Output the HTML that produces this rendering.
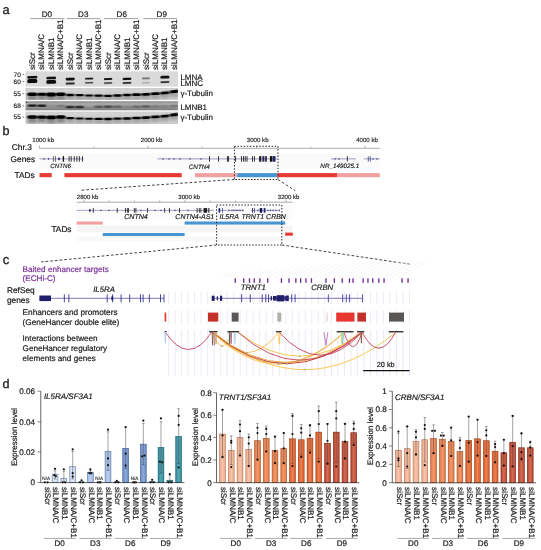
<!DOCTYPE html>
<html><head><meta charset="utf-8"><title>Figure</title>
<style>
html,body{margin:0;padding:0;background:#fff;}
body{width:541px;height:550px;overflow:hidden;}
svg{display:block;font-family:"Liberation Sans",sans-serif;text-rendering:geometricPrecision;}
</style></head><body>
<svg width="541" height="550" viewBox="0 0 541 550">
<rect width="541" height="550" fill="#fff"/>
<text x="2.5" y="13.5" font-size="12.8" text-anchor="start" fill="#1a1a1a" stroke="#1a1a1a" stroke-width="0.307">a</text>
<text x="46.9" y="16.9" font-size="8.1" text-anchor="middle" fill="#1a1a1a" stroke="#1a1a1a" stroke-width="0.194">D0</text>
<line x1="30.2" y1="18.6" x2="64.5" y2="18.6" stroke="#7a7a7a" stroke-width="0.7"/>
<text x="83.3" y="16.9" font-size="8.1" text-anchor="middle" fill="#1a1a1a" stroke="#1a1a1a" stroke-width="0.194">D3</text>
<line x1="67" y1="18.6" x2="100" y2="18.6" stroke="#7a7a7a" stroke-width="0.7"/>
<text x="121.8" y="16.9" font-size="8.1" text-anchor="middle" fill="#1a1a1a" stroke="#1a1a1a" stroke-width="0.194">D6</text>
<line x1="104" y1="18.6" x2="138" y2="18.6" stroke="#7a7a7a" stroke-width="0.7"/>
<text x="161.8" y="16.9" font-size="8.1" text-anchor="middle" fill="#1a1a1a" stroke="#1a1a1a" stroke-width="0.194">D9</text>
<line x1="143.5" y1="18.6" x2="177" y2="18.6" stroke="#7a7a7a" stroke-width="0.7"/>
<text x="35.0" y="70" font-size="8" text-anchor="start" fill="#1a1a1a" stroke="#1a1a1a" stroke-width="0.192" transform="rotate(-90 35.0 70)">siScr</text>
<text x="44.46" y="70" font-size="8" text-anchor="start" fill="#1a1a1a" stroke="#1a1a1a" stroke-width="0.192" transform="rotate(-90 44.46 70)">siLMNA/C</text>
<text x="53.92" y="70" font-size="8" text-anchor="start" fill="#1a1a1a" stroke="#1a1a1a" stroke-width="0.192" transform="rotate(-90 53.92 70)">siLMNB1</text>
<text x="63.38" y="70" font-size="8" text-anchor="start" fill="#1a1a1a" stroke="#1a1a1a" stroke-width="0.192" transform="rotate(-90 63.38 70)">siLMNA/C+B1</text>
<text x="72.84" y="70" font-size="8" text-anchor="start" fill="#1a1a1a" stroke="#1a1a1a" stroke-width="0.192" transform="rotate(-90 72.84 70)">siScr</text>
<text x="82.3" y="70" font-size="8" text-anchor="start" fill="#1a1a1a" stroke="#1a1a1a" stroke-width="0.192" transform="rotate(-90 82.3 70)">siLMNA/C</text>
<text x="91.76" y="70" font-size="8" text-anchor="start" fill="#1a1a1a" stroke="#1a1a1a" stroke-width="0.192" transform="rotate(-90 91.76 70)">siLMNB1</text>
<text x="101.22" y="70" font-size="8" text-anchor="start" fill="#1a1a1a" stroke="#1a1a1a" stroke-width="0.192" transform="rotate(-90 101.22 70)">siLMNA/C+B1</text>
<text x="110.68" y="70" font-size="8" text-anchor="start" fill="#1a1a1a" stroke="#1a1a1a" stroke-width="0.192" transform="rotate(-90 110.68 70)">siScr</text>
<text x="120.14" y="70" font-size="8" text-anchor="start" fill="#1a1a1a" stroke="#1a1a1a" stroke-width="0.192" transform="rotate(-90 120.14 70)">siLMNA/C</text>
<text x="129.6" y="70" font-size="8" text-anchor="start" fill="#1a1a1a" stroke="#1a1a1a" stroke-width="0.192" transform="rotate(-90 129.6 70)">siLMNB1</text>
<text x="139.06" y="70" font-size="8" text-anchor="start" fill="#1a1a1a" stroke="#1a1a1a" stroke-width="0.192" transform="rotate(-90 139.06 70)">siLMNA/C+B1</text>
<text x="148.52" y="70" font-size="8" text-anchor="start" fill="#1a1a1a" stroke="#1a1a1a" stroke-width="0.192" transform="rotate(-90 148.52 70)">siScr</text>
<text x="157.98" y="70" font-size="8" text-anchor="start" fill="#1a1a1a" stroke="#1a1a1a" stroke-width="0.192" transform="rotate(-90 157.98 70)">siLMNA/C</text>
<text x="167.44" y="70" font-size="8" text-anchor="start" fill="#1a1a1a" stroke="#1a1a1a" stroke-width="0.192" transform="rotate(-90 167.44 70)">siLMNB1</text>
<text x="176.9" y="70" font-size="8" text-anchor="start" fill="#1a1a1a" stroke="#1a1a1a" stroke-width="0.192" transform="rotate(-90 176.9 70)">siLMNA/C+B1</text>
<defs><filter id="b1" x="-30%" y="-100%" width="160%" height="300%"><feGaussianBlur stdDeviation="0.7 0.45"/></filter><filter id="b2" x="-30%" y="-100%" width="160%" height="300%"><feGaussianBlur stdDeviation="0.8 0.55"/></filter><filter id="b3" x="-30%" y="-100%" width="160%" height="300%"><feGaussianBlur stdDeviation="1.4 1.3"/></filter>
<clipPath id="cp0"><rect x="25.5" y="71.3" width="152.5" height="15.299999999999997"/></clipPath>
<clipPath id="cp1"><rect x="25.5" y="88" width="152.5" height="11.900000000000006"/></clipPath>
<clipPath id="cp2"><rect x="25.5" y="101.3" width="152.5" height="9.0"/></clipPath>
<clipPath id="cp3"><rect x="25.5" y="111.6" width="152.5" height="12.400000000000006"/></clipPath>
</defs>
<rect x="25.5" y="71.3" width="152.5" height="15.299999999999997" fill="#dadada"/>
<rect x="25.5" y="88" width="152.5" height="11.900000000000006" fill="#cbcbcb"/>
<rect x="25.5" y="101.3" width="152.5" height="9.0" fill="#a6a6a6"/>
<rect x="25.5" y="111.6" width="152.5" height="12.400000000000006" fill="#cdcdcd"/>
<g clip-path="url(#cp0)">
<rect x="27.3" y="76.00" width="10.0" height="2.40" rx="1.20" fill="#080808" opacity="1.0" filter="url(#b1)" transform="rotate(-2 32.3 77.2)"/>
<rect x="27.3" y="79.10" width="10.0" height="4.00" rx="1.60" fill="#080808" opacity="1.0" filter="url(#b1)" transform="rotate(-2 32.3 81.1)"/>
<rect x="27.9" y="79.80" width="8.8" height="2.60" rx="1.30" fill="#080808" opacity="1" filter="url(#b1)"/>
<rect x="46.3" y="76.80" width="9.8" height="2.40" rx="1.20" fill="#080808" opacity="1.0" filter="url(#b1)" transform="rotate(-2 51.2 78.0)"/>
<rect x="46.3" y="80.00" width="9.8" height="3.80" rx="1.60" fill="#080808" opacity="1.0" filter="url(#b1)" transform="rotate(-2 51.2 81.9)"/>
<rect x="46.9" y="80.70" width="8.6" height="2.40" rx="1.20" fill="#080808" opacity="1" filter="url(#b1)"/>
<rect x="65.6" y="77.70" width="9.2" height="2.80" rx="1.40" fill="#080808" opacity="1.0" filter="url(#b1)" transform="rotate(-2 70.2 79.1)"/>
<rect x="65.6" y="82.55" width="9.2" height="1.90" rx="0.95" fill="#080808" opacity="0.85" filter="url(#b1)" transform="rotate(-2 70.2 83.5)"/>
<rect x="84.9" y="77.75" width="8.4" height="1.70" rx="0.85" fill="#080808" opacity="0.95" filter="url(#b1)" transform="rotate(-2 89.1 78.6)"/>
<rect x="84.9" y="82.10" width="8.4" height="1.40" rx="0.70" fill="#080808" opacity="0.7" filter="url(#b1)" transform="rotate(-2 89.1 82.8)"/>
<rect x="103.9" y="78.00" width="8.4" height="2.00" rx="1.00" fill="#080808" opacity="0.95" filter="url(#b1)" transform="rotate(-2 108.1 79.0)"/>
<rect x="103.9" y="82.15" width="8.4" height="1.50" rx="0.75" fill="#080808" opacity="0.75" filter="url(#b1)" transform="rotate(-2 108.1 82.9)"/>
<rect x="122.6" y="77.75" width="8.8" height="2.30" rx="1.15" fill="#080808" opacity="1.0" filter="url(#b1)" transform="rotate(-2 127.0 78.9)"/>
<rect x="122.6" y="82.05" width="8.8" height="1.70" rx="0.85" fill="#080808" opacity="0.85" filter="url(#b1)" transform="rotate(-2 127.0 82.9)"/>
<rect x="142.0" y="77.50" width="7.8" height="1.80" rx="0.90" fill="#080808" opacity="0.5" filter="url(#b1)" transform="rotate(-2 145.9 78.4)"/>
<rect x="142.0" y="82.05" width="7.8" height="1.50" rx="0.75" fill="#080808" opacity="0.22" filter="url(#b1)" transform="rotate(-2 145.9 82.8)"/>
<rect x="160.4" y="75.80" width="9.0" height="2.80" rx="1.40" fill="#080808" opacity="1.0" filter="url(#b1)" transform="rotate(-2 164.9 77.2)"/>
<rect x="160.4" y="81.20" width="9.0" height="1.80" rx="0.90" fill="#080808" opacity="0.85" filter="url(#b1)" transform="rotate(-2 164.9 82.1)"/>
</g>
<g clip-path="url(#cp1)">
<rect x="25.5" y="89.2" width="152.5" height="2.2" fill="#fff" opacity="0.18" filter="url(#b3)"/>
<rect x="36.5" y="88" width="1.0" height="13" fill="#fff" opacity="0.22" filter="url(#b2)"/>
<rect x="46.0" y="88" width="1.0" height="13" fill="#fff" opacity="0.22" filter="url(#b2)"/>
<rect x="55.5" y="88" width="1.0" height="13" fill="#fff" opacity="0.22" filter="url(#b2)"/>
<rect x="65.0" y="88" width="1.0" height="13" fill="#fff" opacity="0.22" filter="url(#b2)"/>
<rect x="74.4" y="88" width="1.0" height="13" fill="#fff" opacity="0.22" filter="url(#b2)"/>
<rect x="83.9" y="88" width="1.0" height="13" fill="#fff" opacity="0.22" filter="url(#b2)"/>
<rect x="93.4" y="88" width="1.0" height="13" fill="#fff" opacity="0.22" filter="url(#b2)"/>
<rect x="102.8" y="88" width="1.0" height="13" fill="#fff" opacity="0.22" filter="url(#b2)"/>
<rect x="112.3" y="88" width="1.0" height="13" fill="#fff" opacity="0.22" filter="url(#b2)"/>
<rect x="121.8" y="88" width="1.0" height="13" fill="#fff" opacity="0.22" filter="url(#b2)"/>
<rect x="131.2" y="88" width="1.0" height="13" fill="#fff" opacity="0.22" filter="url(#b2)"/>
<rect x="140.7" y="88" width="1.0" height="13" fill="#fff" opacity="0.22" filter="url(#b2)"/>
<rect x="150.2" y="88" width="1.0" height="13" fill="#fff" opacity="0.22" filter="url(#b2)"/>
<rect x="159.7" y="88" width="1.0" height="13" fill="#fff" opacity="0.22" filter="url(#b2)"/>
<rect x="169.1" y="88" width="1.0" height="13" fill="#fff" opacity="0.22" filter="url(#b2)"/>
<rect x="28.0" y="94.4" width="8.6" height="5.8" fill="#444" opacity="0.5" filter="url(#b3)"/>
<rect x="27.6" y="92.40" width="9.4" height="3.60" rx="1.60" fill="#030303" opacity="1" filter="url(#b2)"/>
<rect x="28.4" y="93.10" width="7.8" height="2.20" rx="1.10" fill="#000" opacity="1" filter="url(#b2)"/>
<rect x="37.5" y="94.5" width="8.6" height="5.3" fill="#444" opacity="0.5" filter="url(#b3)"/>
<rect x="37.2" y="92.75" width="9.2" height="3.10" rx="1.55" fill="#030303" opacity="1" filter="url(#b2)"/>
<rect x="38.0" y="93.45" width="7.6" height="1.70" rx="0.85" fill="#000" opacity="1" filter="url(#b2)"/>
<rect x="46.9" y="94.7" width="8.6" height="6.0" fill="#444" opacity="0.5" filter="url(#b3)"/>
<rect x="46.4" y="92.60" width="9.6" height="3.80" rx="1.60" fill="#030303" opacity="1" filter="url(#b2)"/>
<rect x="47.2" y="93.30" width="8.0" height="2.40" rx="1.20" fill="#000" opacity="1" filter="url(#b2)"/>
<rect x="56.4" y="94.4" width="8.6" height="5.6" fill="#444" opacity="0.5" filter="url(#b3)"/>
<rect x="56.0" y="92.50" width="9.4" height="3.40" rx="1.60" fill="#030303" opacity="1" filter="url(#b2)"/>
<rect x="56.8" y="93.20" width="7.8" height="2.00" rx="1.00" fill="#000" opacity="1" filter="url(#b2)"/>
<rect x="65.9" y="95.2" width="8.6" height="4.5" fill="#444" opacity="0.28" filter="url(#b3)"/>
<rect x="66.0" y="93.85" width="8.4" height="2.30" rx="1.15" fill="#030303" opacity="1" filter="url(#b2)"/>
<rect x="75.4" y="95.4" width="8.6" height="4.4" fill="#444" opacity="0.28" filter="url(#b3)"/>
<rect x="75.6" y="94.10" width="8.2" height="2.20" rx="1.10" fill="#030303" opacity="1" filter="url(#b2)"/>
<rect x="84.8" y="95.7" width="8.6" height="4.2" fill="#444" opacity="0.28" filter="url(#b3)"/>
<rect x="85.0" y="94.50" width="8.2" height="2.00" rx="1.00" fill="#030303" opacity="1" filter="url(#b2)"/>
<rect x="94.3" y="95.8" width="8.6" height="4.6" fill="#444" opacity="0.28" filter="url(#b3)"/>
<rect x="94.3" y="94.40" width="8.6" height="2.40" rx="1.20" fill="#030303" opacity="1" filter="url(#b2)"/>
<rect x="103.8" y="96.0" width="8.6" height="4.5" fill="#444" opacity="0.28" filter="url(#b3)"/>
<rect x="103.8" y="94.65" width="8.6" height="2.30" rx="1.15" fill="#030303" opacity="1" filter="url(#b2)"/>
<rect x="113.2" y="95.7" width="8.6" height="4.5" fill="#444" opacity="0.28" filter="url(#b3)"/>
<rect x="113.2" y="94.35" width="8.6" height="2.30" rx="1.15" fill="#030303" opacity="1" filter="url(#b2)"/>
<rect x="122.7" y="95.3" width="8.6" height="4.7" fill="#444" opacity="0.28" filter="url(#b3)"/>
<rect x="122.7" y="93.85" width="8.6" height="2.50" rx="1.25" fill="#030303" opacity="1" filter="url(#b2)"/>
<rect x="132.2" y="94.9" width="8.6" height="4.9" fill="#444" opacity="0.28" filter="url(#b3)"/>
<rect x="132.1" y="93.35" width="8.8" height="2.70" rx="1.35" fill="#030303" opacity="1" filter="url(#b2)"/>
<rect x="132.9" y="94.05" width="7.2" height="1.30" rx="0.65" fill="#000" opacity="1" filter="url(#b2)"/>
<rect x="141.6" y="94.5" width="8.6" height="4.9" fill="#444" opacity="0.28" filter="url(#b3)"/>
<rect x="141.5" y="92.95" width="8.8" height="2.70" rx="1.35" fill="#030303" opacity="1" filter="url(#b2)" transform="rotate(-3 145.9 94.3)"/>
<rect x="142.3" y="93.65" width="7.2" height="1.30" rx="0.65" fill="#000" opacity="1" filter="url(#b2)"/>
<rect x="151.1" y="93.9" width="8.6" height="5.0" fill="#444" opacity="0.28" filter="url(#b3)"/>
<rect x="151.0" y="92.30" width="8.8" height="2.80" rx="1.40" fill="#030303" opacity="1" filter="url(#b2)" transform="rotate(-3 155.4 93.7)"/>
<rect x="151.8" y="93.00" width="7.2" height="1.40" rx="0.70" fill="#000" opacity="1" filter="url(#b2)"/>
<rect x="160.6" y="93.1" width="8.6" height="5.1" fill="#444" opacity="0.28" filter="url(#b3)"/>
<rect x="160.4" y="91.45" width="9.0" height="2.90" rx="1.45" fill="#030303" opacity="1" filter="url(#b2)" transform="rotate(-7 164.9 92.9)"/>
<rect x="161.2" y="92.15" width="7.4" height="1.50" rx="0.75" fill="#000" opacity="1" filter="url(#b2)"/>
<rect x="170.1" y="91.8" width="8.6" height="5.2" fill="#444" opacity="0.28" filter="url(#b3)"/>
<rect x="169.8" y="90.10" width="9.2" height="3.00" rx="1.50" fill="#030303" opacity="1" filter="url(#b2)" transform="rotate(-7 174.4 91.6)"/>
<rect x="170.6" y="90.80" width="7.6" height="1.60" rx="0.80" fill="#000" opacity="1" filter="url(#b2)"/>
</g>
<g clip-path="url(#cp2)">
<rect x="25.5" y="107.6" width="152.5" height="3.4" fill="#444" opacity="0.4" filter="url(#b3)"/>
<rect x="25.5" y="100.4" width="152.5" height="2.2" fill="#555" opacity="0.3" filter="url(#b2)"/>
<rect x="27.9" y="104.40" width="8.8" height="2.40" rx="1.20" fill="#0a0a0a" opacity="0.95" filter="url(#b2)"/>
<rect x="37.4" y="104.60" width="8.8" height="2.40" rx="1.20" fill="#0a0a0a" opacity="0.85" filter="url(#b2)"/>
<rect x="46.8" y="104.80" width="8.8" height="2.40" rx="1.20" fill="#0a0a0a" opacity="0.12" filter="url(#b2)"/>
<rect x="56.3" y="104.80" width="8.8" height="2.40" rx="1.20" fill="#0a0a0a" opacity="0.25" filter="url(#b2)"/>
<rect x="65.8" y="105.80" width="8.8" height="2.40" rx="1.20" fill="#0a0a0a" opacity="0.75" filter="url(#b2)"/>
<rect x="75.2" y="105.80" width="8.8" height="2.40" rx="1.20" fill="#0a0a0a" opacity="0.75" filter="url(#b2)"/>
<rect x="84.7" y="105.80" width="8.8" height="2.40" rx="1.20" fill="#0a0a0a" opacity="0.05" filter="url(#b2)"/>
<rect x="94.2" y="105.60" width="8.8" height="2.40" rx="1.20" fill="#0a0a0a" opacity="0.45" filter="url(#b2)"/>
<rect x="103.7" y="105.40" width="8.8" height="2.40" rx="1.20" fill="#0a0a0a" opacity="0.6" filter="url(#b2)"/>
<rect x="113.1" y="105.40" width="8.8" height="2.40" rx="1.20" fill="#0a0a0a" opacity="0.4" filter="url(#b2)"/>
<rect x="122.6" y="105.40" width="8.8" height="2.40" rx="1.20" fill="#0a0a0a" opacity="0.15" filter="url(#b2)"/>
<rect x="132.1" y="105.40" width="8.8" height="2.40" rx="1.20" fill="#0a0a0a" opacity="0.35" filter="url(#b2)"/>
<rect x="141.5" y="105.20" width="8.8" height="2.40" rx="1.20" fill="#0a0a0a" opacity="0.45" filter="url(#b2)"/>
<rect x="151.0" y="105.20" width="8.8" height="2.40" rx="1.20" fill="#0a0a0a" opacity="0.25" filter="url(#b2)"/>
<rect x="160.5" y="105.00" width="8.8" height="2.40" rx="1.20" fill="#0a0a0a" opacity="0.18" filter="url(#b2)"/>
<rect x="170.0" y="104.80" width="8.8" height="2.40" rx="1.20" fill="#0a0a0a" opacity="0.25" filter="url(#b2)"/>
<rect x="25.8" y="101.6" width="1.2" height="1.0" fill="#111"/>
</g>
<g clip-path="url(#cp3)">
<rect x="25.5" y="112.8" width="152.5" height="2.2" fill="#fff" opacity="0.18" filter="url(#b3)"/>
<rect x="36.5" y="111.6" width="1.0" height="13" fill="#fff" opacity="0.22" filter="url(#b2)"/>
<rect x="46.0" y="111.6" width="1.0" height="13" fill="#fff" opacity="0.22" filter="url(#b2)"/>
<rect x="55.5" y="111.6" width="1.0" height="13" fill="#fff" opacity="0.22" filter="url(#b2)"/>
<rect x="65.0" y="111.6" width="1.0" height="13" fill="#fff" opacity="0.22" filter="url(#b2)"/>
<rect x="74.4" y="111.6" width="1.0" height="13" fill="#fff" opacity="0.22" filter="url(#b2)"/>
<rect x="83.9" y="111.6" width="1.0" height="13" fill="#fff" opacity="0.22" filter="url(#b2)"/>
<rect x="93.4" y="111.6" width="1.0" height="13" fill="#fff" opacity="0.22" filter="url(#b2)"/>
<rect x="102.8" y="111.6" width="1.0" height="13" fill="#fff" opacity="0.22" filter="url(#b2)"/>
<rect x="112.3" y="111.6" width="1.0" height="13" fill="#fff" opacity="0.22" filter="url(#b2)"/>
<rect x="121.8" y="111.6" width="1.0" height="13" fill="#fff" opacity="0.22" filter="url(#b2)"/>
<rect x="131.2" y="111.6" width="1.0" height="13" fill="#fff" opacity="0.22" filter="url(#b2)"/>
<rect x="140.7" y="111.6" width="1.0" height="13" fill="#fff" opacity="0.22" filter="url(#b2)"/>
<rect x="150.2" y="111.6" width="1.0" height="13" fill="#fff" opacity="0.22" filter="url(#b2)"/>
<rect x="159.7" y="111.6" width="1.0" height="13" fill="#fff" opacity="0.22" filter="url(#b2)"/>
<rect x="169.1" y="111.6" width="1.0" height="13" fill="#fff" opacity="0.22" filter="url(#b2)"/>
<rect x="28.0" y="117.2" width="8.6" height="5.8" fill="#444" opacity="0.5" filter="url(#b3)"/>
<rect x="27.6" y="115.20" width="9.4" height="3.60" rx="1.60" fill="#030303" opacity="1" filter="url(#b2)"/>
<rect x="28.4" y="115.90" width="7.8" height="2.20" rx="1.10" fill="#000" opacity="1" filter="url(#b2)"/>
<rect x="37.5" y="117.3" width="8.6" height="5.3" fill="#444" opacity="0.5" filter="url(#b3)"/>
<rect x="37.2" y="115.55" width="9.2" height="3.10" rx="1.55" fill="#030303" opacity="1" filter="url(#b2)"/>
<rect x="38.0" y="116.25" width="7.6" height="1.70" rx="0.85" fill="#000" opacity="1" filter="url(#b2)"/>
<rect x="46.9" y="117.6" width="8.6" height="6.0" fill="#444" opacity="0.5" filter="url(#b3)"/>
<rect x="46.4" y="115.50" width="9.6" height="3.80" rx="1.60" fill="#030303" opacity="1" filter="url(#b2)"/>
<rect x="47.2" y="116.20" width="8.0" height="2.40" rx="1.20" fill="#000" opacity="1" filter="url(#b2)"/>
<rect x="56.4" y="117.2" width="8.6" height="5.6" fill="#444" opacity="0.5" filter="url(#b3)"/>
<rect x="56.0" y="115.30" width="9.4" height="3.40" rx="1.60" fill="#030303" opacity="1" filter="url(#b2)"/>
<rect x="56.8" y="116.00" width="7.8" height="2.00" rx="1.00" fill="#000" opacity="1" filter="url(#b2)"/>
<rect x="65.9" y="118.4" width="8.6" height="4.5" fill="#444" opacity="0.28" filter="url(#b3)"/>
<rect x="66.0" y="117.05" width="8.4" height="2.30" rx="1.15" fill="#030303" opacity="1" filter="url(#b2)"/>
<rect x="75.4" y="118.7" width="8.6" height="4.4" fill="#444" opacity="0.28" filter="url(#b3)"/>
<rect x="75.6" y="117.40" width="8.2" height="2.20" rx="1.10" fill="#030303" opacity="1" filter="url(#b2)"/>
<rect x="84.8" y="119.0" width="8.6" height="4.2" fill="#444" opacity="0.28" filter="url(#b3)"/>
<rect x="85.0" y="117.80" width="8.2" height="2.00" rx="1.00" fill="#030303" opacity="1" filter="url(#b2)"/>
<rect x="94.3" y="119.1" width="8.6" height="4.6" fill="#444" opacity="0.28" filter="url(#b3)"/>
<rect x="94.3" y="117.70" width="8.6" height="2.40" rx="1.20" fill="#030303" opacity="1" filter="url(#b2)"/>
<rect x="103.8" y="119.2" width="8.6" height="4.5" fill="#444" opacity="0.28" filter="url(#b3)"/>
<rect x="103.8" y="117.85" width="8.6" height="2.30" rx="1.15" fill="#030303" opacity="1" filter="url(#b2)"/>
<rect x="113.2" y="118.9" width="8.6" height="4.5" fill="#444" opacity="0.28" filter="url(#b3)"/>
<rect x="113.2" y="117.55" width="8.6" height="2.30" rx="1.15" fill="#030303" opacity="1" filter="url(#b2)"/>
<rect x="122.7" y="118.6" width="8.6" height="4.7" fill="#444" opacity="0.28" filter="url(#b3)"/>
<rect x="122.7" y="117.15" width="8.6" height="2.50" rx="1.25" fill="#030303" opacity="1" filter="url(#b2)"/>
<rect x="132.2" y="118.2" width="8.6" height="4.9" fill="#444" opacity="0.28" filter="url(#b3)"/>
<rect x="132.1" y="116.65" width="8.8" height="2.70" rx="1.35" fill="#030303" opacity="1" filter="url(#b2)"/>
<rect x="132.9" y="117.35" width="7.2" height="1.30" rx="0.65" fill="#000" opacity="1" filter="url(#b2)"/>
<rect x="141.6" y="117.8" width="8.6" height="4.9" fill="#444" opacity="0.28" filter="url(#b3)"/>
<rect x="141.5" y="116.25" width="8.8" height="2.70" rx="1.35" fill="#030303" opacity="1" filter="url(#b2)" transform="rotate(-3 145.9 117.6)"/>
<rect x="142.3" y="116.95" width="7.2" height="1.30" rx="0.65" fill="#000" opacity="1" filter="url(#b2)"/>
<rect x="151.1" y="117.1" width="8.6" height="5.0" fill="#444" opacity="0.28" filter="url(#b3)"/>
<rect x="151.0" y="115.50" width="8.8" height="2.80" rx="1.40" fill="#030303" opacity="1" filter="url(#b2)" transform="rotate(-3 155.4 116.9)"/>
<rect x="151.8" y="116.20" width="7.2" height="1.40" rx="0.70" fill="#000" opacity="1" filter="url(#b2)"/>
<rect x="160.6" y="116.3" width="8.6" height="5.1" fill="#444" opacity="0.28" filter="url(#b3)"/>
<rect x="160.4" y="114.65" width="9.0" height="2.90" rx="1.45" fill="#030303" opacity="1" filter="url(#b2)" transform="rotate(-7 164.9 116.1)"/>
<rect x="161.2" y="115.35" width="7.4" height="1.50" rx="0.75" fill="#000" opacity="1" filter="url(#b2)"/>
<rect x="170.1" y="115.0" width="8.6" height="5.2" fill="#444" opacity="0.28" filter="url(#b3)"/>
<rect x="169.8" y="113.30" width="9.2" height="3.00" rx="1.50" fill="#030303" opacity="1" filter="url(#b2)" transform="rotate(-7 174.4 114.8)"/>
<rect x="170.6" y="114.00" width="7.6" height="1.60" rx="0.80" fill="#000" opacity="1" filter="url(#b2)"/>
</g>
<text x="20.8" y="76.89999999999999" font-size="6.5" text-anchor="end" fill="#1a1a1a" stroke="#1a1a1a" stroke-width="0.156">70</text>
<line x1="22.6" y1="74.6" x2="24.2" y2="74.6" stroke="#1a1a1a" stroke-width="0.6"/>
<text x="20.8" y="83.89999999999999" font-size="6.5" text-anchor="end" fill="#1a1a1a" stroke="#1a1a1a" stroke-width="0.156">60</text>
<line x1="22.6" y1="81.6" x2="24.2" y2="81.6" stroke="#1a1a1a" stroke-width="0.6"/>
<text x="20.8" y="96.0" font-size="6.5" text-anchor="end" fill="#1a1a1a" stroke="#1a1a1a" stroke-width="0.156">55</text>
<line x1="22.6" y1="93.7" x2="24.2" y2="93.7" stroke="#1a1a1a" stroke-width="0.6"/>
<text x="20.8" y="108.3" font-size="6.5" text-anchor="end" fill="#1a1a1a" stroke="#1a1a1a" stroke-width="0.156">68</text>
<line x1="22.6" y1="106.0" x2="24.2" y2="106.0" stroke="#1a1a1a" stroke-width="0.6"/>
<text x="20.8" y="119.39999999999999" font-size="6.5" text-anchor="end" fill="#1a1a1a" stroke="#1a1a1a" stroke-width="0.156">55</text>
<line x1="22.6" y1="117.1" x2="24.2" y2="117.1" stroke="#1a1a1a" stroke-width="0.6"/>
<text x="180.4" y="79.85" font-size="8" text-anchor="start" fill="#1a1a1a" stroke="#1a1a1a" stroke-width="0.192">LMNA</text>
<text x="180.4" y="86.14999999999999" font-size="8" text-anchor="start" fill="#1a1a1a" stroke="#1a1a1a" stroke-width="0.192">LMNC</text>
<text x="180.4" y="96.14999999999999" font-size="8" text-anchor="start" fill="#1a1a1a" stroke="#1a1a1a" stroke-width="0.192">γ-Tubulin</text>
<text x="180.4" y="109.85" font-size="8" text-anchor="start" fill="#1a1a1a" stroke="#1a1a1a" stroke-width="0.192">LMNB1</text>
<text x="180.4" y="119.85" font-size="8" text-anchor="start" fill="#1a1a1a" stroke="#1a1a1a" stroke-width="0.192">γ-Tubulin</text>
<text x="2.5" y="135.2" font-size="12.6" text-anchor="start" fill="#1a1a1a" stroke="#1a1a1a" stroke-width="0.302">b</text>
<line x1="39.5" y1="148.3" x2="379.8" y2="148.3" stroke="#888" stroke-width="0.7"/>
<line x1="39.5" y1="148.3" x2="39.5" y2="145.70000000000002" stroke="#888" stroke-width="0.6"/>
<line x1="93.8" y1="148.3" x2="93.8" y2="146.5" stroke="#888" stroke-width="0.6"/>
<line x1="148.0" y1="148.3" x2="148.0" y2="145.70000000000002" stroke="#888" stroke-width="0.6"/>
<line x1="202.2" y1="148.3" x2="202.2" y2="146.5" stroke="#888" stroke-width="0.6"/>
<line x1="256.5" y1="148.3" x2="256.5" y2="145.70000000000002" stroke="#888" stroke-width="0.6"/>
<line x1="310.8" y1="148.3" x2="310.8" y2="146.5" stroke="#888" stroke-width="0.6"/>
<line x1="365.0" y1="148.3" x2="365.0" y2="145.70000000000002" stroke="#888" stroke-width="0.6"/>
<text x="43.2" y="142.0" font-size="6.1" text-anchor="middle" fill="#1a1a1a" stroke="#1a1a1a" stroke-width="0.146">1000 kb</text>
<text x="151.6" y="142.0" font-size="6.1" text-anchor="middle" fill="#1a1a1a" stroke="#1a1a1a" stroke-width="0.146">2000 kb</text>
<text x="257.7" y="142.0" font-size="6.1" text-anchor="middle" fill="#1a1a1a" stroke="#1a1a1a" stroke-width="0.146">3000 kb</text>
<text x="367" y="142.0" font-size="6.1" text-anchor="middle" fill="#1a1a1a" stroke="#1a1a1a" stroke-width="0.146">4000 kb</text>
<text x="11.8" y="149.8" font-size="8.4" text-anchor="start" fill="#1a1a1a" stroke="#1a1a1a" stroke-width="0.202">Chr.3</text>
<text x="10.6" y="162" font-size="8.3" text-anchor="start" fill="#1a1a1a" stroke="#1a1a1a" stroke-width="0.199">Genes</text>
<text x="14.5" y="177.9" font-size="8.3" text-anchor="start" fill="#1a1a1a" stroke="#1a1a1a" stroke-width="0.199">TADs</text>
<rect x="39.5" y="153.5" width="340.3" height="15" fill="#fafafa"/>
<line x1="39.5" y1="158.9" x2="83.5" y2="158.9" stroke="#3d3d85" stroke-width="0.5"/>
<rect x="43.50" y="158.1" width="1.0" height="1.6" fill="#23236e" opacity="0.85"/>
<rect x="48.00" y="158.1" width="1.0" height="1.6" fill="#23236e" opacity="0.85"/>
<rect x="52.95" y="156.1" width="0.7" height="5.6" fill="#333"/>
<rect x="54.95" y="156.1" width="0.7" height="5.6" fill="#333"/>
<rect x="58.20" y="157.6" width="1.6" height="2.6" rx="0.6" fill="#23236e"/>
<rect x="62.75" y="156.1" width="1.3" height="5.6" fill="#111"/>
<rect x="68.65" y="156.1" width="0.9" height="5.6" fill="#222"/>
<rect x="70.75" y="156.1" width="0.9" height="5.6" fill="#222"/>
<rect x="73.75" y="156.1" width="0.9" height="5.6" fill="#222"/>
<rect x="76.45" y="156.1" width="0.9" height="5.6" fill="#222"/>
<rect x="78.85" y="156.1" width="0.9" height="5.6" fill="#222"/>
<rect x="81.95" y="156.1" width="0.9" height="5.6" fill="#222"/>
<text x="60.6" y="168.0" font-size="6.2" text-anchor="middle" fill="#1a1a1a" stroke="#1a1a1a" stroke-width="0.149" font-style="italic">CNTN6</text>
<line x1="157.5" y1="158.9" x2="276.5" y2="158.9" stroke="#3d3d85" stroke-width="0.5"/>
<rect x="162.50" y="158.1" width="1.0" height="1.6" fill="#23236e" opacity="0.85"/>
<rect x="168.50" y="158.1" width="1.0" height="1.6" fill="#23236e" opacity="0.85"/>
<rect x="173.50" y="158.1" width="1.0" height="1.6" fill="#23236e" opacity="0.85"/>
<rect x="179.50" y="158.1" width="1.0" height="1.6" fill="#23236e" opacity="0.85"/>
<rect x="189.50" y="158.1" width="1.0" height="1.6" fill="#23236e" opacity="0.85"/>
<rect x="200.50" y="158.1" width="1.0" height="1.6" fill="#23236e" opacity="0.85"/>
<rect x="209.05" y="156.1" width="0.9" height="5.6" fill="#222"/>
<rect x="218.15" y="156.1" width="0.9" height="5.6" fill="#222"/>
<rect x="226.95" y="156.1" width="0.9" height="5.6" fill="#222"/>
<rect x="228.15" y="156.1" width="0.9" height="5.6" fill="#222"/>
<rect x="235.15" y="156.1" width="0.9" height="5.6" fill="#222"/>
<rect x="241.05" y="156.1" width="0.9" height="5.6" fill="#222"/>
<rect x="243.05" y="156.1" width="0.9" height="5.6" fill="#222"/>
<rect x="244.75" y="156.1" width="0.9" height="5.6" fill="#222"/>
<rect x="246.55" y="156.1" width="0.9" height="5.6" fill="#222"/>
<rect x="251.95" y="156.1" width="0.9" height="5.6" fill="#222"/>
<rect x="253.95" y="156.1" width="0.9" height="5.6" fill="#222"/>
<rect x="259.10" y="156.1" width="2.2" height="5.6" fill="#1b1b1b"/>
<rect x="262.40" y="156.1" width="2.0" height="5.6" fill="#23236e"/>
<rect x="265.20" y="156.1" width="1.6" height="5.6" fill="#1b1b1b"/>
<rect x="269.90" y="156.1" width="2.6" height="5.6" fill="#111"/>
<rect x="272.90" y="156.1" width="2.6" height="5.6" fill="#23236e"/>
<text x="199.3" y="168.6" font-size="6.3" text-anchor="middle" fill="#1a1a1a" stroke="#1a1a1a" stroke-width="0.151" font-style="italic">CNTN4</text>
<line x1="331" y1="158.9" x2="356" y2="158.9" stroke="#3d3d85" stroke-width="0.5"/>
<rect x="334.50" y="158.1" width="1.0" height="1.6" fill="#23236e" opacity="0.85"/>
<rect x="338.50" y="158.1" width="1.0" height="1.6" fill="#23236e" opacity="0.85"/>
<rect x="346.85" y="156.3" width="0.9" height="5.2" fill="#222"/>
<text x="339.8" y="168.4" font-size="6.3" text-anchor="middle" fill="#1a1a1a" stroke="#1a1a1a" stroke-width="0.151" font-style="italic">NR_149025.1</text>
<line x1="363.6" y1="158.9" x2="379.8" y2="158.9" stroke="#3d3d85" stroke-width="0.5"/>
<rect x="367.85" y="156.3" width="0.7" height="5.2" fill="#23236e"/>
<rect x="369.85" y="156.3" width="0.7" height="5.2" fill="#23236e"/>
<rect x="372.50" y="158.1" width="1.0" height="1.6" fill="#23236e" opacity="0.85"/>
<rect x="376.50" y="158.1" width="1.0" height="1.6" fill="#23236e" opacity="0.85"/>
<rect x="39.5" y="173.1" width="12.2" height="4.1" fill="#e73a34"/>
<rect x="64.4" y="173.1" width="117.3" height="4.1" fill="#e73a34"/>
<rect x="194.9" y="173.1" width="42.4" height="4.1" fill="#f3a0a0"/>
<rect x="237.3" y="173.1" width="40.0" height="4.1" fill="#4795d3"/>
<rect x="277.3" y="173.1" width="60.1" height="4.1" fill="#e73a34"/>
<rect x="337.4" y="173.1" width="42.4" height="4.1" fill="#f3a0a0"/>
<rect x="234.4" y="146.3" width="43.6" height="33.2" fill="none" stroke="#2a2a2a" stroke-width="1.0" stroke-dasharray="1.5 1.6"/>
<line x1="234.4" y1="179.5" x2="81" y2="190.2" stroke="#222" stroke-width="0.85" stroke-dasharray="2.7 2.0"/>
<line x1="278" y1="179.5" x2="295.2" y2="190.7" stroke="#222" stroke-width="0.85" stroke-dasharray="2.7 2.0"/>
<line x1="76.6" y1="202.2" x2="292.5" y2="202.2" stroke="#888" stroke-width="0.7"/>
<line x1="84.0" y1="202.2" x2="84.0" y2="199.6" stroke="#888" stroke-width="0.6"/>
<line x1="109.2" y1="202.2" x2="109.2" y2="200.39999999999998" stroke="#888" stroke-width="0.6"/>
<line x1="134.5" y1="202.2" x2="134.5" y2="200.39999999999998" stroke="#888" stroke-width="0.6"/>
<line x1="159.8" y1="202.2" x2="159.8" y2="200.39999999999998" stroke="#888" stroke-width="0.6"/>
<line x1="185.0" y1="202.2" x2="185.0" y2="199.6" stroke="#888" stroke-width="0.6"/>
<line x1="210.2" y1="202.2" x2="210.2" y2="200.39999999999998" stroke="#888" stroke-width="0.6"/>
<line x1="235.5" y1="202.2" x2="235.5" y2="200.39999999999998" stroke="#888" stroke-width="0.6"/>
<line x1="260.8" y1="202.2" x2="260.8" y2="200.39999999999998" stroke="#888" stroke-width="0.6"/>
<line x1="286.0" y1="202.2" x2="286.0" y2="199.6" stroke="#888" stroke-width="0.6"/>
<text x="87.6" y="198.8" font-size="6.1" text-anchor="middle" fill="#1a1a1a" stroke="#1a1a1a" stroke-width="0.146">2800 kb</text>
<text x="189.1" y="198.8" font-size="6.1" text-anchor="middle" fill="#1a1a1a" stroke="#1a1a1a" stroke-width="0.146">3000 kb</text>
<text x="288.6" y="198.8" font-size="6.1" text-anchor="middle" fill="#1a1a1a" stroke="#1a1a1a" stroke-width="0.146">3200 kb</text>
<rect x="76.6" y="205.5" width="216" height="14.5" fill="#fcfcfc"/>
<line x1="76.6" y1="210.4" x2="214" y2="210.4" stroke="#3d3d85" stroke-width="0.45"/>
<rect x="89.05" y="209.1" width="1.7" height="2.6" rx="0.6" fill="#23236e"/>
<rect x="92.85" y="208.1" width="0.9" height="4.6" fill="#222"/>
<rect x="100.50" y="209.6" width="1.0" height="1.6" fill="#23236e" opacity="0.85"/>
<rect x="108.50" y="209.6" width="1.0" height="1.6" fill="#23236e" opacity="0.85"/>
<rect x="116.75" y="208.1" width="0.9" height="4.6" fill="#222"/>
<rect x="124.95" y="208.1" width="0.9" height="4.6" fill="#222"/>
<rect x="126.85" y="208.1" width="0.9" height="4.6" fill="#222"/>
<rect x="127.95" y="208.1" width="0.9" height="4.6" fill="#222"/>
<rect x="133.85" y="208.1" width="0.9" height="4.6" fill="#222"/>
<rect x="135.45" y="208.1" width="0.9" height="4.6" fill="#222"/>
<rect x="140.50" y="209.6" width="1.0" height="1.6" fill="#23236e" opacity="0.85"/>
<rect x="147.15" y="208.1" width="0.9" height="4.6" fill="#222"/>
<rect x="154.50" y="209.6" width="1.0" height="1.6" fill="#23236e" opacity="0.85"/>
<rect x="160.50" y="209.6" width="1.0" height="1.6" fill="#23236e" opacity="0.85"/>
<rect x="164.25" y="208.1" width="0.9" height="4.6" fill="#222"/>
<rect x="168.95" y="208.1" width="0.9" height="4.6" fill="#222"/>
<rect x="174.50" y="209.6" width="1.0" height="1.6" fill="#23236e" opacity="0.85"/>
<rect x="179.05" y="208.1" width="0.9" height="4.6" fill="#222"/>
<rect x="187.50" y="209.6" width="1.0" height="1.6" fill="#23236e" opacity="0.85"/>
<rect x="196.65" y="208.1" width="0.9" height="4.6" fill="#222"/>
<rect x="198.85" y="208.1" width="0.9" height="4.6" fill="#222"/>
<rect x="200.45" y="208.1" width="0.9" height="4.6" fill="#222"/>
<rect x="203.50" y="208.1" width="3.6" height="4.6" fill="#1e1e1e"/>
<rect x="207.90" y="208.1" width="1.6" height="4.6" fill="#555"/>
<line x1="218" y1="210.4" x2="244" y2="210.4" stroke="#3d3d85" stroke-width="0.45"/>
<rect x="218.60" y="208.1" width="1.6" height="4.6" fill="#23236e"/>
<rect x="222.05" y="208.1" width="0.7" height="4.6" fill="#23236e"/>
<rect x="228.50" y="209.6" width="1.0" height="1.6" fill="#23236e" opacity="0.85"/>
<rect x="231.50" y="209.6" width="1.0" height="1.6" fill="#23236e" opacity="0.85"/>
<rect x="233.50" y="209.6" width="1.0" height="1.6" fill="#23236e" opacity="0.85"/>
<rect x="235.50" y="209.6" width="1.0" height="1.6" fill="#23236e" opacity="0.85"/>
<rect x="237.50" y="209.6" width="1.0" height="1.6" fill="#23236e" opacity="0.85"/>
<rect x="239.50" y="209.6" width="1.0" height="1.6" fill="#23236e" opacity="0.85"/>
<rect x="242.30" y="209.6" width="1.0" height="1.6" fill="#23236e" opacity="0.85"/>
<line x1="251" y1="210.4" x2="280" y2="210.4" stroke="#3d3d85" stroke-width="0.45"/>
<rect x="252.10" y="208.1" width="1.0" height="4.6" fill="#23236e"/>
<rect x="254.25" y="208.1" width="0.7" height="4.6" fill="#23236e"/>
<rect x="257.50" y="209.6" width="1.0" height="1.6" fill="#23236e" opacity="0.85"/>
<rect x="259.70" y="208.1" width="2.6" height="4.6" fill="#15154a"/>
<rect x="263.70" y="208.1" width="1.8" height="4.6" fill="#23236e"/>
<rect x="267.50" y="209.6" width="1.0" height="1.6" fill="#23236e" opacity="0.85"/>
<rect x="270.10" y="209.6" width="1.0" height="1.6" fill="#23236e" opacity="0.85"/>
<rect x="272.50" y="209.6" width="1.0" height="1.6" fill="#23236e" opacity="0.85"/>
<rect x="275.50" y="209.6" width="1.0" height="1.6" fill="#23236e" opacity="0.85"/>
<rect x="278.90" y="209.6" width="1.0" height="1.6" fill="#23236e" opacity="0.85"/>
<text x="136" y="219.3" font-size="7.1" text-anchor="middle" fill="#1a1a1a" stroke="#1a1a1a" stroke-width="0.17" font-style="italic">CNTN4</text>
<text x="194.8" y="219.4" font-size="7" text-anchor="middle" fill="#1a1a1a" stroke="#1a1a1a" stroke-width="0.168" font-style="italic">CNTN4-AS1</text>
<text x="229.2" y="219.4" font-size="7" text-anchor="middle" fill="#1a1a1a" stroke="#1a1a1a" stroke-width="0.168" font-style="italic">IL5RA</text>
<text x="252.8" y="219.4" font-size="7" text-anchor="middle" fill="#1a1a1a" stroke="#1a1a1a" stroke-width="0.168" font-style="italic">TRNT1</text>
<text x="276" y="219.4" font-size="7" text-anchor="middle" fill="#1a1a1a" stroke="#1a1a1a" stroke-width="0.168" font-style="italic">CRBN</text>
<rect x="76.6" y="225.6" width="216" height="6.6" fill="#f5f5f5"/>
<rect x="76.6" y="236.6" width="216" height="4.6" fill="#f8f8f8"/>
<rect x="76.6" y="221.5" width="26.2" height="3.1" fill="#f3a0a0"/>
<rect x="184.6" y="221.5" width="100.6" height="3.1" fill="#4795d3"/>
<rect x="102.8" y="233" width="81.8" height="3.1" fill="#4795d3"/>
<rect x="285.2" y="232.6" width="7.6" height="3.1" fill="#e73a34"/>
<text x="51.4" y="231.5" font-size="8.3" text-anchor="start" fill="#1a1a1a" stroke="#1a1a1a" stroke-width="0.199">TADs</text>
<rect x="216.6" y="205" width="65.2" height="40" fill="none" stroke="#2a2a2a" stroke-width="1.0" stroke-dasharray="1.5 1.6"/>
<line x1="216.6" y1="245" x2="41" y2="262" stroke="#222" stroke-width="0.85" stroke-dasharray="2.7 2.0"/>
<line x1="281.8" y1="245" x2="410.5" y2="264.3" stroke="#222" stroke-width="0.85" stroke-dasharray="2.7 2.0"/>
<text x="2.8" y="264.2" font-size="13" text-anchor="start" fill="#1a1a1a" stroke="#1a1a1a" stroke-width="0.312">c</text>
<text x="22.6" y="271.9" font-size="8.15" text-anchor="start" fill="#7a2f9a" stroke="#7a2f9a" stroke-width="0.196">Baited enhancer targets</text>
<text x="22.6" y="281.1" font-size="8.15" text-anchor="start" fill="#7a2f9a" stroke="#7a2f9a" stroke-width="0.196">(ECHi-C)</text>
<text x="7" y="293.4" font-size="8.3" text-anchor="start" fill="#1a1a1a" stroke="#1a1a1a" stroke-width="0.199">RefSeq</text>
<text x="7" y="302.6" font-size="8.3" text-anchor="start" fill="#1a1a1a" stroke="#1a1a1a" stroke-width="0.199">genes</text>
<text x="22.6" y="314.6" font-size="8.25" text-anchor="start" fill="#1a1a1a" stroke="#1a1a1a" stroke-width="0.198">Enhancers and promoters</text>
<text x="22.6" y="324.7" font-size="8.25" text-anchor="start" fill="#1a1a1a" stroke="#1a1a1a" stroke-width="0.198">(GeneHancer double elite)</text>
<text x="22.6" y="341.0" font-size="8.15" text-anchor="start" fill="#1a1a1a" stroke="#1a1a1a" stroke-width="0.196">Interactions between</text>
<text x="22.6" y="350.8" font-size="8.15" text-anchor="start" fill="#1a1a1a" stroke="#1a1a1a" stroke-width="0.196">GeneHancer regulatory</text>
<text x="22.6" y="360.8" font-size="8.15" text-anchor="start" fill="#1a1a1a" stroke="#1a1a1a" stroke-width="0.196">elements and genes</text>
<line x1="168.6" y1="291.8" x2="168.6" y2="303.8" stroke="#e7e2f2" stroke-width="0.8"/>
<line x1="168.6" y1="310.5" x2="168.6" y2="323.6" stroke="#e7e2f2" stroke-width="0.8"/>
<line x1="168.6" y1="330" x2="168.6" y2="376" stroke="#e7e2f2" stroke-width="0.8"/>
<line x1="175.1" y1="291.8" x2="175.1" y2="303.8" stroke="#e7e2f2" stroke-width="0.8"/>
<line x1="175.1" y1="310.5" x2="175.1" y2="323.6" stroke="#e7e2f2" stroke-width="0.8"/>
<line x1="175.1" y1="330" x2="175.1" y2="376" stroke="#e7e2f2" stroke-width="0.8"/>
<line x1="181.6" y1="291.8" x2="181.6" y2="303.8" stroke="#e7e2f2" stroke-width="0.8"/>
<line x1="181.6" y1="310.5" x2="181.6" y2="323.6" stroke="#e7e2f2" stroke-width="0.8"/>
<line x1="181.6" y1="330" x2="181.6" y2="376" stroke="#e7e2f2" stroke-width="0.8"/>
<line x1="188.1" y1="291.8" x2="188.1" y2="303.8" stroke="#e7e2f2" stroke-width="0.8"/>
<line x1="188.1" y1="310.5" x2="188.1" y2="323.6" stroke="#e7e2f2" stroke-width="0.8"/>
<line x1="188.1" y1="330" x2="188.1" y2="376" stroke="#e7e2f2" stroke-width="0.8"/>
<line x1="194.6" y1="291.8" x2="194.6" y2="303.8" stroke="#e7e2f2" stroke-width="0.8"/>
<line x1="194.6" y1="310.5" x2="194.6" y2="323.6" stroke="#e7e2f2" stroke-width="0.8"/>
<line x1="194.6" y1="330" x2="194.6" y2="376" stroke="#e7e2f2" stroke-width="0.8"/>
<line x1="201.1" y1="291.8" x2="201.1" y2="303.8" stroke="#e7e2f2" stroke-width="0.8"/>
<line x1="201.1" y1="310.5" x2="201.1" y2="323.6" stroke="#e7e2f2" stroke-width="0.8"/>
<line x1="201.1" y1="330" x2="201.1" y2="376" stroke="#e7e2f2" stroke-width="0.8"/>
<line x1="207.7" y1="291.8" x2="207.7" y2="303.8" stroke="#e7e2f2" stroke-width="0.8"/>
<line x1="207.7" y1="310.5" x2="207.7" y2="323.6" stroke="#e7e2f2" stroke-width="0.8"/>
<line x1="207.7" y1="330" x2="207.7" y2="376" stroke="#e7e2f2" stroke-width="0.8"/>
<line x1="214.2" y1="291.8" x2="214.2" y2="303.8" stroke="#e7e2f2" stroke-width="0.8"/>
<line x1="214.2" y1="310.5" x2="214.2" y2="323.6" stroke="#e7e2f2" stroke-width="0.8"/>
<line x1="214.2" y1="330" x2="214.2" y2="376" stroke="#e7e2f2" stroke-width="0.8"/>
<line x1="220.7" y1="291.8" x2="220.7" y2="303.8" stroke="#e7e2f2" stroke-width="0.8"/>
<line x1="220.7" y1="310.5" x2="220.7" y2="323.6" stroke="#e7e2f2" stroke-width="0.8"/>
<line x1="220.7" y1="330" x2="220.7" y2="376" stroke="#e7e2f2" stroke-width="0.8"/>
<line x1="227.2" y1="291.8" x2="227.2" y2="303.8" stroke="#e7e2f2" stroke-width="0.8"/>
<line x1="227.2" y1="310.5" x2="227.2" y2="323.6" stroke="#e7e2f2" stroke-width="0.8"/>
<line x1="227.2" y1="330" x2="227.2" y2="376" stroke="#e7e2f2" stroke-width="0.8"/>
<line x1="233.7" y1="291.8" x2="233.7" y2="303.8" stroke="#e7e2f2" stroke-width="0.8"/>
<line x1="233.7" y1="310.5" x2="233.7" y2="323.6" stroke="#e7e2f2" stroke-width="0.8"/>
<line x1="233.7" y1="330" x2="233.7" y2="376" stroke="#e7e2f2" stroke-width="0.8"/>
<line x1="240.2" y1="291.8" x2="240.2" y2="303.8" stroke="#e7e2f2" stroke-width="0.8"/>
<line x1="240.2" y1="310.5" x2="240.2" y2="323.6" stroke="#e7e2f2" stroke-width="0.8"/>
<line x1="240.2" y1="330" x2="240.2" y2="376" stroke="#e7e2f2" stroke-width="0.8"/>
<line x1="246.7" y1="291.8" x2="246.7" y2="303.8" stroke="#e7e2f2" stroke-width="0.8"/>
<line x1="246.7" y1="310.5" x2="246.7" y2="323.6" stroke="#e7e2f2" stroke-width="0.8"/>
<line x1="246.7" y1="330" x2="246.7" y2="376" stroke="#e7e2f2" stroke-width="0.8"/>
<line x1="253.2" y1="291.8" x2="253.2" y2="303.8" stroke="#e7e2f2" stroke-width="0.8"/>
<line x1="253.2" y1="310.5" x2="253.2" y2="323.6" stroke="#e7e2f2" stroke-width="0.8"/>
<line x1="253.2" y1="330" x2="253.2" y2="376" stroke="#e7e2f2" stroke-width="0.8"/>
<line x1="259.7" y1="291.8" x2="259.7" y2="303.8" stroke="#e7e2f2" stroke-width="0.8"/>
<line x1="259.7" y1="310.5" x2="259.7" y2="323.6" stroke="#e7e2f2" stroke-width="0.8"/>
<line x1="259.7" y1="330" x2="259.7" y2="376" stroke="#e7e2f2" stroke-width="0.8"/>
<line x1="266.2" y1="291.8" x2="266.2" y2="303.8" stroke="#e7e2f2" stroke-width="0.8"/>
<line x1="266.2" y1="310.5" x2="266.2" y2="323.6" stroke="#e7e2f2" stroke-width="0.8"/>
<line x1="266.2" y1="330" x2="266.2" y2="376" stroke="#e7e2f2" stroke-width="0.8"/>
<line x1="272.8" y1="291.8" x2="272.8" y2="303.8" stroke="#e7e2f2" stroke-width="0.8"/>
<line x1="272.8" y1="310.5" x2="272.8" y2="323.6" stroke="#e7e2f2" stroke-width="0.8"/>
<line x1="272.8" y1="330" x2="272.8" y2="376" stroke="#e7e2f2" stroke-width="0.8"/>
<line x1="279.3" y1="291.8" x2="279.3" y2="303.8" stroke="#e7e2f2" stroke-width="0.8"/>
<line x1="279.3" y1="310.5" x2="279.3" y2="323.6" stroke="#e7e2f2" stroke-width="0.8"/>
<line x1="279.3" y1="330" x2="279.3" y2="376" stroke="#e7e2f2" stroke-width="0.8"/>
<line x1="285.8" y1="291.8" x2="285.8" y2="303.8" stroke="#e7e2f2" stroke-width="0.8"/>
<line x1="285.8" y1="310.5" x2="285.8" y2="323.6" stroke="#e7e2f2" stroke-width="0.8"/>
<line x1="285.8" y1="330" x2="285.8" y2="376" stroke="#e7e2f2" stroke-width="0.8"/>
<line x1="292.3" y1="291.8" x2="292.3" y2="303.8" stroke="#e7e2f2" stroke-width="0.8"/>
<line x1="292.3" y1="310.5" x2="292.3" y2="323.6" stroke="#e7e2f2" stroke-width="0.8"/>
<line x1="292.3" y1="330" x2="292.3" y2="376" stroke="#e7e2f2" stroke-width="0.8"/>
<line x1="298.8" y1="291.8" x2="298.8" y2="303.8" stroke="#e7e2f2" stroke-width="0.8"/>
<line x1="298.8" y1="310.5" x2="298.8" y2="323.6" stroke="#e7e2f2" stroke-width="0.8"/>
<line x1="298.8" y1="330" x2="298.8" y2="376" stroke="#e7e2f2" stroke-width="0.8"/>
<line x1="305.3" y1="291.8" x2="305.3" y2="303.8" stroke="#e7e2f2" stroke-width="0.8"/>
<line x1="305.3" y1="310.5" x2="305.3" y2="323.6" stroke="#e7e2f2" stroke-width="0.8"/>
<line x1="305.3" y1="330" x2="305.3" y2="376" stroke="#e7e2f2" stroke-width="0.8"/>
<line x1="311.8" y1="291.8" x2="311.8" y2="303.8" stroke="#e7e2f2" stroke-width="0.8"/>
<line x1="311.8" y1="310.5" x2="311.8" y2="323.6" stroke="#e7e2f2" stroke-width="0.8"/>
<line x1="311.8" y1="330" x2="311.8" y2="376" stroke="#e7e2f2" stroke-width="0.8"/>
<line x1="318.3" y1="291.8" x2="318.3" y2="303.8" stroke="#e7e2f2" stroke-width="0.8"/>
<line x1="318.3" y1="310.5" x2="318.3" y2="323.6" stroke="#e7e2f2" stroke-width="0.8"/>
<line x1="318.3" y1="330" x2="318.3" y2="376" stroke="#e7e2f2" stroke-width="0.8"/>
<line x1="324.8" y1="291.8" x2="324.8" y2="303.8" stroke="#e7e2f2" stroke-width="0.8"/>
<line x1="324.8" y1="310.5" x2="324.8" y2="323.6" stroke="#e7e2f2" stroke-width="0.8"/>
<line x1="324.8" y1="330" x2="324.8" y2="376" stroke="#e7e2f2" stroke-width="0.8"/>
<line x1="331.4" y1="291.8" x2="331.4" y2="303.8" stroke="#e7e2f2" stroke-width="0.8"/>
<line x1="331.4" y1="310.5" x2="331.4" y2="323.6" stroke="#e7e2f2" stroke-width="0.8"/>
<line x1="331.4" y1="330" x2="331.4" y2="376" stroke="#e7e2f2" stroke-width="0.8"/>
<line x1="337.9" y1="291.8" x2="337.9" y2="303.8" stroke="#e7e2f2" stroke-width="0.8"/>
<line x1="337.9" y1="310.5" x2="337.9" y2="323.6" stroke="#e7e2f2" stroke-width="0.8"/>
<line x1="337.9" y1="330" x2="337.9" y2="376" stroke="#e7e2f2" stroke-width="0.8"/>
<line x1="344.4" y1="291.8" x2="344.4" y2="303.8" stroke="#e7e2f2" stroke-width="0.8"/>
<line x1="344.4" y1="310.5" x2="344.4" y2="323.6" stroke="#e7e2f2" stroke-width="0.8"/>
<line x1="344.4" y1="330" x2="344.4" y2="376" stroke="#e7e2f2" stroke-width="0.8"/>
<line x1="350.9" y1="291.8" x2="350.9" y2="303.8" stroke="#e7e2f2" stroke-width="0.8"/>
<line x1="350.9" y1="310.5" x2="350.9" y2="323.6" stroke="#e7e2f2" stroke-width="0.8"/>
<line x1="350.9" y1="330" x2="350.9" y2="376" stroke="#e7e2f2" stroke-width="0.8"/>
<line x1="357.4" y1="291.8" x2="357.4" y2="303.8" stroke="#e7e2f2" stroke-width="0.8"/>
<line x1="357.4" y1="310.5" x2="357.4" y2="323.6" stroke="#e7e2f2" stroke-width="0.8"/>
<line x1="357.4" y1="330" x2="357.4" y2="376" stroke="#e7e2f2" stroke-width="0.8"/>
<line x1="363.9" y1="291.8" x2="363.9" y2="303.8" stroke="#e7e2f2" stroke-width="0.8"/>
<line x1="363.9" y1="310.5" x2="363.9" y2="323.6" stroke="#e7e2f2" stroke-width="0.8"/>
<line x1="363.9" y1="330" x2="363.9" y2="376" stroke="#e7e2f2" stroke-width="0.8"/>
<line x1="370.4" y1="291.8" x2="370.4" y2="303.8" stroke="#e7e2f2" stroke-width="0.8"/>
<line x1="370.4" y1="310.5" x2="370.4" y2="323.6" stroke="#e7e2f2" stroke-width="0.8"/>
<line x1="370.4" y1="330" x2="370.4" y2="376" stroke="#e7e2f2" stroke-width="0.8"/>
<line x1="376.9" y1="291.8" x2="376.9" y2="303.8" stroke="#e7e2f2" stroke-width="0.8"/>
<line x1="376.9" y1="310.5" x2="376.9" y2="323.6" stroke="#e7e2f2" stroke-width="0.8"/>
<line x1="376.9" y1="330" x2="376.9" y2="376" stroke="#e7e2f2" stroke-width="0.8"/>
<line x1="383.4" y1="291.8" x2="383.4" y2="303.8" stroke="#e7e2f2" stroke-width="0.8"/>
<line x1="383.4" y1="310.5" x2="383.4" y2="323.6" stroke="#e7e2f2" stroke-width="0.8"/>
<line x1="383.4" y1="330" x2="383.4" y2="376" stroke="#e7e2f2" stroke-width="0.8"/>
<line x1="389.9" y1="291.8" x2="389.9" y2="303.8" stroke="#e7e2f2" stroke-width="0.8"/>
<line x1="389.9" y1="310.5" x2="389.9" y2="323.6" stroke="#e7e2f2" stroke-width="0.8"/>
<line x1="389.9" y1="330" x2="389.9" y2="376" stroke="#e7e2f2" stroke-width="0.8"/>
<line x1="396.4" y1="291.8" x2="396.4" y2="303.8" stroke="#e7e2f2" stroke-width="0.8"/>
<line x1="396.4" y1="310.5" x2="396.4" y2="323.6" stroke="#e7e2f2" stroke-width="0.8"/>
<line x1="396.4" y1="330" x2="396.4" y2="376" stroke="#e7e2f2" stroke-width="0.8"/>
<line x1="403.0" y1="291.8" x2="403.0" y2="303.8" stroke="#e7e2f2" stroke-width="0.8"/>
<line x1="403.0" y1="310.5" x2="403.0" y2="323.6" stroke="#e7e2f2" stroke-width="0.8"/>
<line x1="403.0" y1="330" x2="403.0" y2="376" stroke="#e7e2f2" stroke-width="0.8"/>
<line x1="409.5" y1="291.8" x2="409.5" y2="303.8" stroke="#e7e2f2" stroke-width="0.8"/>
<line x1="409.5" y1="310.5" x2="409.5" y2="323.6" stroke="#e7e2f2" stroke-width="0.8"/>
<line x1="409.5" y1="330" x2="409.5" y2="376" stroke="#e7e2f2" stroke-width="0.8"/>
<line x1="222.0" y1="277.5" x2="231.2" y2="272.5" stroke="#f1eff5" stroke-width="0.7"/>
<line x1="228.5" y1="277.5" x2="238.8" y2="271.9" stroke="#f1eff5" stroke-width="0.7"/>
<line x1="235.0" y1="277.5" x2="246.4" y2="271.3" stroke="#f1eff5" stroke-width="0.7"/>
<line x1="241.5" y1="277.5" x2="254.0" y2="270.7" stroke="#f1eff5" stroke-width="0.7"/>
<line x1="248.0" y1="277.5" x2="261.5" y2="270.1" stroke="#f1eff5" stroke-width="0.7"/>
<line x1="254.5" y1="277.5" x2="269.1" y2="269.5" stroke="#f1eff5" stroke-width="0.7"/>
<line x1="261.1" y1="277.5" x2="276.7" y2="268.9" stroke="#f1eff5" stroke-width="0.7"/>
<line x1="267.6" y1="277.5" x2="284.3" y2="268.3" stroke="#f1eff5" stroke-width="0.7"/>
<line x1="274.1" y1="277.5" x2="291.9" y2="267.7" stroke="#f1eff5" stroke-width="0.7"/>
<line x1="280.6" y1="277.5" x2="299.5" y2="267.1" stroke="#f1eff5" stroke-width="0.7"/>
<line x1="287.1" y1="277.5" x2="307.1" y2="266.5" stroke="#f1eff5" stroke-width="0.7"/>
<line x1="293.6" y1="277.5" x2="314.7" y2="265.9" stroke="#f1eff5" stroke-width="0.7"/>
<line x1="300.1" y1="277.5" x2="322.3" y2="265.3" stroke="#f1eff5" stroke-width="0.7"/>
<line x1="306.6" y1="277.5" x2="329.9" y2="264.7" stroke="#f1eff5" stroke-width="0.7"/>
<line x1="313.1" y1="277.5" x2="337.5" y2="264.1" stroke="#f1eff5" stroke-width="0.7"/>
<line x1="319.6" y1="277.5" x2="345.1" y2="263.5" stroke="#f1eff5" stroke-width="0.7"/>
<line x1="326.2" y1="277.5" x2="352.7" y2="262.9" stroke="#f1eff5" stroke-width="0.7"/>
<line x1="332.7" y1="277.5" x2="360.3" y2="262.3" stroke="#f1eff5" stroke-width="0.7"/>
<line x1="339.2" y1="277.5" x2="367.2" y2="262.1" stroke="#f1eff5" stroke-width="0.7"/>
<line x1="345.7" y1="277.5" x2="373.7" y2="262.1" stroke="#f1eff5" stroke-width="0.7"/>
<line x1="352.2" y1="277.5" x2="380.2" y2="262.1" stroke="#f1eff5" stroke-width="0.7"/>
<line x1="358.7" y1="277.5" x2="386.7" y2="262.1" stroke="#f1eff5" stroke-width="0.7"/>
<line x1="365.2" y1="277.5" x2="393.2" y2="262.1" stroke="#f1eff5" stroke-width="0.7"/>
<line x1="371.7" y1="277.5" x2="399.7" y2="262.1" stroke="#f1eff5" stroke-width="0.7"/>
<line x1="378.2" y1="277.5" x2="406.2" y2="262.1" stroke="#f1eff5" stroke-width="0.7"/>
<line x1="384.7" y1="277.5" x2="412.7" y2="262.1" stroke="#f1eff5" stroke-width="0.7"/>
<line x1="391.3" y1="277.5" x2="419.3" y2="262.1" stroke="#f1eff5" stroke-width="0.7"/>
<line x1="397.8" y1="277.5" x2="425.8" y2="262.1" stroke="#f1eff5" stroke-width="0.7"/>
<rect x="234.6" y="278.3" width="1.3" height="4.5" fill="#6b2590"/>
<rect x="243.1" y="278.3" width="1.3" height="4.5" fill="#6b2590"/>
<rect x="248.8" y="278.3" width="1.3" height="4.5" fill="#6b2590"/>
<rect x="253.6" y="278.3" width="1.3" height="4.5" fill="#6b2590"/>
<rect x="259.2" y="278.3" width="1.3" height="4.5" fill="#6b2590"/>
<rect x="267.1" y="278.3" width="1.3" height="4.5" fill="#6b2590"/>
<rect x="280.8" y="278.3" width="1.3" height="4.5" fill="#6b2590"/>
<rect x="288.4" y="278.3" width="1.3" height="4.5" fill="#6b2590"/>
<rect x="295.2" y="278.3" width="1.3" height="4.5" fill="#6b2590"/>
<rect x="300.0" y="278.3" width="1.3" height="4.5" fill="#6b2590"/>
<rect x="305.3" y="278.3" width="1.3" height="4.5" fill="#6b2590"/>
<rect x="310.8" y="278.3" width="1.3" height="4.5" fill="#6b2590"/>
<rect x="325.3" y="278.3" width="1.3" height="4.5" fill="#6b2590"/>
<rect x="333.7" y="278.3" width="1.3" height="4.5" fill="#6b2590"/>
<rect x="341.6" y="278.3" width="1.3" height="4.5" fill="#6b2590"/>
<rect x="348.8" y="278.3" width="1.3" height="4.5" fill="#6b2590"/>
<rect x="352.4" y="278.3" width="1.3" height="4.5" fill="#6b2590"/>
<rect x="362.5" y="278.3" width="1.3" height="4.5" fill="#6b2590"/>
<rect x="367.3" y="278.3" width="1.3" height="4.5" fill="#6b2590"/>
<rect x="372.1" y="278.3" width="1.3" height="4.5" fill="#6b2590"/>
<rect x="378.2" y="278.3" width="1.3" height="4.5" fill="#6b2590"/>
<rect x="383.4" y="278.3" width="1.3" height="4.5" fill="#6b2590"/>
<rect x="401.4" y="278.3" width="1.3" height="4.5" fill="#6b2590"/>
<rect x="407.4" y="278.3" width="1.3" height="4.5" fill="#6b2590"/>
<text x="104" y="292" font-size="7.8" text-anchor="middle" fill="#1a1a1a" stroke="#1a1a1a" stroke-width="0.187" font-style="italic">IL5RA</text>
<text x="253.2" y="290.1" font-size="7.8" text-anchor="middle" fill="#1a1a1a" stroke="#1a1a1a" stroke-width="0.187" font-style="italic">TRNT1</text>
<text x="322.2" y="290.1" font-size="7.8" text-anchor="middle" fill="#1a1a1a" stroke="#1a1a1a" stroke-width="0.187" font-style="italic">CRBN</text>
<line x1="39.4" y1="298.3" x2="164.4" y2="298.3" stroke="#4a3fa0" stroke-width="0.7"/>
<rect x="39.4" y="295.5" width="11.6" height="5.6" fill="#1f1f6b"/>
<rect x="63.849999999999994" y="294.3" width="0.9" height="8" fill="#33338f"/>
<rect x="68.45" y="294.3" width="0.9" height="8" fill="#33338f"/>
<rect x="106.75" y="294.3" width="0.9" height="8" fill="#33338f"/>
<rect x="112.14999999999999" y="294.3" width="0.9" height="8" fill="#33338f"/>
<rect x="120.64999999999999" y="294.3" width="0.9" height="8" fill="#33338f"/>
<rect x="129.25" y="294.3" width="0.9" height="8" fill="#33338f"/>
<rect x="139.95000000000002" y="294.3" width="0.9" height="8" fill="#33338f"/>
<rect x="142.65" y="294.3" width="0.9" height="8" fill="#33338f"/>
<rect x="148.85000000000002" y="294.3" width="0.9" height="8" fill="#33338f"/>
<rect x="160.05" y="294.3" width="0.9" height="8" fill="#33338f"/>
<rect x="163.55" y="294.3" width="0.9" height="8" fill="#33338f"/>
<rect x="111.4" y="296.3" width="1.8" height="4" fill="#1f1f6b"/>
<line x1="211.7" y1="298.3" x2="289" y2="298.3" stroke="#4a3fa0" stroke-width="0.7"/>
<rect x="211.7" y="295.7" width="2.9" height="5.2" fill="#1f1f6b"/>
<rect x="216.8" y="296.3" width="1.2" height="4" fill="#1f1f6b"/>
<rect x="220" y="295.7" width="2.2" height="5.2" fill="#1f1f6b"/>
<rect x="270.6" y="296.2" width="1.4" height="4.2" fill="#1f1f6b"/>
<rect x="273" y="296.0" width="3.6" height="4.6" fill="#1f1f6b"/>
<rect x="276.6" y="295.2" width="7.8" height="6.2" fill="#1f1f6b"/>
<rect x="284.4" y="296.2" width="1.6" height="4.2" fill="#1f1f6b"/>
<rect x="286" y="295.5" width="2.8" height="5.6" fill="#1f1f6b"/>
<rect x="241.25" y="294.3" width="0.9" height="8" fill="#33338f"/>
<rect x="249.75" y="294.3" width="0.9" height="8" fill="#33338f"/>
<rect x="261.75" y="294.3" width="0.9" height="8" fill="#33338f"/>
<rect x="265.35" y="294.3" width="0.9" height="8" fill="#33338f"/>
<rect x="268.15000000000003" y="294.3" width="0.9" height="8" fill="#33338f"/>
<line x1="285" y1="298.3" x2="362.4" y2="298.3" stroke="#4a3fa0" stroke-width="0.7"/>
<rect x="291.25" y="294.3" width="0.9" height="8" fill="#4040a0"/>
<rect x="294.65000000000003" y="294.3" width="0.9" height="8" fill="#4040a0"/>
<rect x="327.85" y="294.3" width="0.9" height="8" fill="#4040a0"/>
<rect x="342.25" y="294.3" width="0.9" height="8" fill="#4040a0"/>
<rect x="345.85" y="294.3" width="0.9" height="8" fill="#4040a0"/>
<rect x="348.95" y="294.3" width="0.9" height="8" fill="#4040a0"/>
<rect x="361.95" y="294.3" width="0.9" height="8" fill="#4040a0"/>
<rect x="164.6" y="312.6" width="1.6" height="9" fill="#e6332a"/>
<rect x="208" y="312.6" width="10.3" height="9" fill="#c5302a"/>
<rect x="231.7" y="312.6" width="6.9" height="9" fill="#5a5757"/>
<rect x="277.3" y="312.6" width="4.0" height="9" fill="#b3afaf"/>
<rect x="326.6" y="312.6" width="1.0" height="9" fill="#d8cdbb"/>
<rect x="336.2" y="312.6" width="18.3" height="9" fill="#e8352d"/>
<rect x="357.4" y="312.6" width="8.6" height="9" fill="#c3302a"/>
<rect x="389" y="312.6" width="15.0" height="9" fill="#595656"/>
<rect x="164.6" y="331.1" width="2.0" height="1.3" fill="#222"/>
<rect x="209.2" y="331.1" width="8.3" height="1.3" fill="#222"/>
<rect x="227.5" y="331.1" width="11.6" height="1.3" fill="#222"/>
<rect x="275.9" y="331.1" width="5.6" height="1.3" fill="#222"/>
<rect x="336.7" y="331.1" width="16.8" height="1.3" fill="#222"/>
<rect x="357.1" y="331.1" width="7.2" height="1.3" fill="#222"/>
<rect x="388.8" y="331.1" width="14.5" height="1.3" fill="#222"/>
<path d="M213 332.2 Q304.5 407.2 396 332.2" fill="none" stroke="#f6c445" stroke-width="0.9" opacity="1"/>
<path d="M212.5 332.2 Q278.2 396.2 344 332.2" fill="none" stroke="#f6c445" stroke-width="0.9" opacity="1"/>
<path d="M238 332.2 Q299.8 380.2 361.5 332.2" fill="none" stroke="#f6c445" stroke-width="0.9" opacity="1"/>
<path d="M214 332.2 Q246.5 373.2 279 332.2" fill="none" stroke="#f6c445" stroke-width="0.9" opacity="1"/>
<path d="M212.5 332.2 Q222.2 360.2 232 332.2" fill="none" stroke="#f6c445" stroke-width="0.9" opacity="1"/>
<path d="M213.5 332.2 Q279.0 394.2 344.5 332.2" fill="none" stroke="#e9a13b" stroke-width="0.8" opacity="1"/>
<path d="M278.3 332.2 L279.3 344.2 L280.3 332.2" fill="none" stroke="#f6c445" stroke-width="0.8"/>
<path d="M165.3 332.2 Q188.5 366.8 211.7 332.2" fill="none" stroke="#c8405a" stroke-width="0.9" opacity="1"/>
<path d="M212 332.2 Q287.0 395.2 362 332.2" fill="none" stroke="#b8323c" stroke-width="0.9" opacity="1"/>
<path d="M213 332.2 Q287.0 392.8 361 332.2" fill="none" stroke="#e9a13b" stroke-width="0.9" opacity="1"/>
<path d="M238 332.2 Q300.0 388.2 362 332.2" fill="none" stroke="#c8405a" stroke-width="0.9" opacity="1"/>
<path d="M279 332.2 Q320.5 378.2 362 332.2" fill="none" stroke="#c8405a" stroke-width="0.9" opacity="1"/>
<path d="M344 332.2 Q353.0 361.0 362 332.2" fill="none" stroke="#c8405a" stroke-width="0.9" opacity="1"/>
<path d="M362 332.2 Q378.8 364.2 395.6 332.2" fill="none" stroke="#c8405a" stroke-width="0.9" opacity="1"/>
<path d="M165.1 332.2 L165.4 343.2 L165.70000000000002 332.2" fill="none" stroke="#a9cdea" stroke-width="1.2"/>
<path d="M212.1 332.2 L212.6 345.2 L213.1 332.2" fill="none" stroke="#8a5a3a" stroke-width="0.9"/>
<path d="M213.9 332.2 L214.4 345.2 L214.9 332.2" fill="none" stroke="#b08fc0" stroke-width="0.9"/>
<path d="M215.5 332.2 L216 344.2 L216.5 332.2" fill="none" stroke="#d9a04a" stroke-width="0.8"/>
<path d="M229.29999999999998 332.2 L229.6 343.7 L229.9 332.2" fill="none" stroke="#555" stroke-width="0.9"/>
<path d="M230.89999999999998 332.2 L231.2 343.7 L231.5 332.2" fill="none" stroke="#a05a7a" stroke-width="0.8"/>
<path d="M234.7 332.2 L235 343.7 L235.3 332.2" fill="none" stroke="#a9cdea" stroke-width="1.1"/>
<path d="M323.9 332.2 L325.9 345.2 L327.9 332.2" fill="none" stroke="#b060b0" stroke-width="0.8"/>
<path d="M341.7 332.2 L342.7 344.2 L343.7 332.2" fill="none" stroke="#7fc8c0" stroke-width="0.9"/>
<path d="M340.9 332.2 L341.5 343.2 L342.1 332.2" fill="none" stroke="#c8d070" stroke-width="0.7"/>
<path d="M361.0 332.2 L361.4 343.2 L361.79999999999995 332.2" fill="none" stroke="#8a5a3a" stroke-width="0.9"/>
<rect x="303.6" y="369.1" width="1.8" height="1.2" fill="#a5a5a5"/>
<rect x="277.4" y="363.6" width="1.8" height="1.2" fill="#a5a5a5"/>
<rect x="298.9" y="355.6" width="1.8" height="1.2" fill="#a5a5a5"/>
<rect x="245.6" y="352.1" width="1.8" height="1.2" fill="#a5a5a5"/>
<rect x="221.3" y="345.6" width="1.8" height="1.2" fill="#a5a5a5"/>
<rect x="278.1" y="362.6" width="1.8" height="1.2" fill="#a5a5a5"/>
<rect x="187.6" y="348.9" width="1.8" height="1.2" fill="#a5a5a5"/>
<rect x="286.1" y="363.1" width="1.8" height="1.2" fill="#a5a5a5"/>
<rect x="299.1" y="359.6" width="1.8" height="1.2" fill="#a5a5a5"/>
<rect x="319.6" y="354.6" width="1.8" height="1.2" fill="#a5a5a5"/>
<rect x="352.1" y="346.0" width="1.8" height="1.2" fill="#a5a5a5"/>
<rect x="377.9" y="347.6" width="1.8" height="1.2" fill="#a5a5a5"/>
<line x1="363.2" y1="370.6" x2="409.5" y2="370.6" stroke="#111" stroke-width="1.3"/>
<text x="385.7" y="366.7" font-size="7.3" text-anchor="middle" fill="#1a1a1a" stroke="#1a1a1a" stroke-width="0.175">20 kb</text>
<text x="2.5" y="388.1" font-size="12.6" text-anchor="start" fill="#1a1a1a" stroke="#1a1a1a" stroke-width="0.302">d</text>
<line x1="37.5" y1="391.2" x2="40.8" y2="391.2" stroke="#333" stroke-width="0.6"/>
<text x="34.9" y="394.09999999999997" font-size="8.1" text-anchor="end" fill="#1a1a1a" stroke="#1a1a1a" stroke-width="0.194">0.06</text>
<line x1="37.5" y1="421.9" x2="40.8" y2="421.9" stroke="#333" stroke-width="0.6"/>
<text x="34.9" y="424.79999999999995" font-size="8.1" text-anchor="end" fill="#1a1a1a" stroke="#1a1a1a" stroke-width="0.194">0.04</text>
<line x1="37.5" y1="451.9" x2="40.8" y2="451.9" stroke="#333" stroke-width="0.6"/>
<text x="34.9" y="454.79999999999995" font-size="8.1" text-anchor="end" fill="#1a1a1a" stroke="#1a1a1a" stroke-width="0.194">0.02</text>
<line x1="37.5" y1="482.5" x2="40.8" y2="482.5" stroke="#333" stroke-width="0.6"/>
<text x="34.9" y="485.4" font-size="8.1" text-anchor="end" fill="#1a1a1a" stroke="#1a1a1a" stroke-width="0.194">0</text>
<text x="43.9" y="399.2" font-size="8" text-anchor="start" fill="#1a1a1a" stroke="#1a1a1a" stroke-width="0.192" font-style="italic">IL5RA/SF3A1</text>
<text x="16.6" y="437" font-size="8" text-anchor="middle" fill="#1a1a1a" stroke="#1a1a1a" stroke-width="0.192" transform="rotate(-90 16.6 437)">Expression level</text>
<circle cx="44.80" cy="482.33" r="1.1" fill="#111"/>
<circle cx="47.60" cy="482.33" r="1.1" fill="#111"/>
<text x="46.2" y="480.40000000000003" font-size="4.6" text-anchor="middle" fill="#1a1a1a" stroke="#1a1a1a" stroke-width="0.11">N/A</text>
<text x="44.5" y="486.90000000000003" font-size="8.1" text-anchor="start" fill="#1a1a1a" stroke="#1a1a1a" stroke-width="0.194" transform="rotate(90 44.5 486.90000000000003)">siScr</text>
<linearGradient id="g0" x1="0" x2="1" y1="0" y2="0"><stop offset="0" stop-color="#cdd9e7"/><stop offset="0.5" stop-color="#e2ecf7"/><stop offset="1" stop-color="#cdd9e7"/></linearGradient>
<rect x="52.13" y="474.12" width="5.8" height="8.48" fill="url(#g0)" stroke="#5f7fae" stroke-width="0.6"/>
<path d="M55.03 470.88V478.89M53.73 470.88h2.6M53.73 478.89h2.6" stroke="#333" stroke-width="0.45" fill="none"/>
<circle cx="55.03" cy="468.78" r="1.1" fill="#111"/>
<circle cx="54.23" cy="475.08" r="1.1" fill="#111"/>
<circle cx="55.83" cy="476.22" r="1.1" fill="#111"/>
<text x="53.33" y="486.90000000000003" font-size="8.1" text-anchor="start" fill="#1a1a1a" stroke="#1a1a1a" stroke-width="0.194" transform="rotate(90 53.33 486.90000000000003)">siLMNA/C</text>
<rect x="60.96" y="478.51" width="5.8" height="4.09" fill="url(#g0)" stroke="#5f7fae" stroke-width="0.6"/>
<path d="M63.86 471.26V482.52M62.56 471.26h2.6M62.56 482.52h2.6" stroke="#333" stroke-width="0.45" fill="none"/>
<circle cx="63.86" cy="469.35" r="1.1" fill="#111"/>
<circle cx="62.66" cy="482.33" r="1.1" fill="#111"/>
<circle cx="65.06" cy="482.33" r="1.1" fill="#111"/>
<text x="62.16" y="486.90000000000003" font-size="8.1" text-anchor="start" fill="#1a1a1a" stroke="#1a1a1a" stroke-width="0.194" transform="rotate(90 62.16 486.90000000000003)">siLMNB1</text>
<rect x="69.79" y="466.49" width="5.8" height="16.11" fill="url(#g0)" stroke="#5f7fae" stroke-width="0.6"/>
<path d="M72.69 451.22V478.89M71.39 451.22h2.6M71.39 478.89h2.6" stroke="#333" stroke-width="0.45" fill="none"/>
<circle cx="72.69" cy="449.31" r="1.1" fill="#111"/>
<circle cx="72.69" cy="473.17" r="1.1" fill="#111"/>
<circle cx="72.69" cy="476.60" r="1.1" fill="#111"/>
<text x="70.99" y="486.90000000000003" font-size="8.1" text-anchor="start" fill="#1a1a1a" stroke="#1a1a1a" stroke-width="0.194" transform="rotate(90 70.99 486.90000000000003)">siLMNA/C+B1</text>
<linearGradient id="g1" x1="0" x2="1" y1="0" y2="0"><stop offset="0" stop-color="#9eb7db"/><stop offset="0.5" stop-color="#bbd0ee"/><stop offset="1" stop-color="#9eb7db"/></linearGradient>
<rect x="78.62" y="481.95" width="5.8" height="0.65" fill="url(#g1)" stroke="#4d6fa8" stroke-width="0.6"/>
<circle cx="81.52" cy="480.23" r="1.1" fill="#111"/>
<circle cx="80.12" cy="482.33" r="1.1" fill="#111"/>
<circle cx="82.92" cy="482.33" r="1.1" fill="#111"/>
<text x="79.82" y="486.90000000000003" font-size="8.1" text-anchor="start" fill="#1a1a1a" stroke="#1a1a1a" stroke-width="0.194" transform="rotate(90 79.82 486.90000000000003)">siScr</text>
<rect x="87.45" y="472.21" width="5.8" height="10.39" fill="url(#g1)" stroke="#4d6fa8" stroke-width="0.6"/>
<path d="M90.35 470.69V474.12M89.05 470.69h2.6M89.05 474.12h2.6" stroke="#333" stroke-width="0.45" fill="none"/>
<circle cx="90.35" cy="469.35" r="1.1" fill="#111"/>
<circle cx="89.35" cy="472.98" r="1.1" fill="#111"/>
<circle cx="91.35" cy="473.17" r="1.1" fill="#111"/>
<text x="88.65" y="486.90000000000003" font-size="8.1" text-anchor="start" fill="#1a1a1a" stroke="#1a1a1a" stroke-width="0.194" transform="rotate(90 88.65 486.90000000000003)">siLMNA/C</text>
<circle cx="97.78" cy="482.33" r="1.1" fill="#111"/>
<circle cx="99.18" cy="482.33" r="1.1" fill="#111"/>
<circle cx="100.58" cy="482.33" r="1.1" fill="#111"/>
<text x="99.18" y="480.40000000000003" font-size="4.6" text-anchor="middle" fill="#1a1a1a" stroke="#1a1a1a" stroke-width="0.11">N/A</text>
<text x="97.48" y="486.90000000000003" font-size="8.1" text-anchor="start" fill="#1a1a1a" stroke="#1a1a1a" stroke-width="0.194" transform="rotate(90 97.48 486.90000000000003)">siLMNB1</text>
<rect x="105.11" y="451.60" width="5.8" height="31.00" fill="url(#g1)" stroke="#4d6fa8" stroke-width="0.6"/>
<path d="M108.01 431.76V470.31M106.71 431.76h2.6M106.71 470.31h2.6" stroke="#333" stroke-width="0.45" fill="none"/>
<circle cx="108.01" cy="429.66" r="1.1" fill="#111"/>
<circle cx="108.01" cy="458.47" r="1.1" fill="#111"/>
<circle cx="108.01" cy="465.15" r="1.1" fill="#111"/>
<text x="106.31" y="486.90000000000003" font-size="8.1" text-anchor="start" fill="#1a1a1a" stroke="#1a1a1a" stroke-width="0.194" transform="rotate(90 106.31 486.90000000000003)">siLMNA/C+B1</text>
<linearGradient id="g2" x1="0" x2="1" y1="0" y2="0"><stop offset="0" stop-color="#6889c3"/><stop offset="0.5" stop-color="#8ea9da"/><stop offset="1" stop-color="#6889c3"/></linearGradient>
<rect x="113.94" y="481.95" width="5.8" height="0.65" fill="url(#g2)" stroke="#3a5a9c" stroke-width="0.6"/>
<circle cx="116.84" cy="480.80" r="1.1" fill="#111"/>
<circle cx="115.44" cy="482.33" r="1.1" fill="#111"/>
<circle cx="118.24" cy="482.33" r="1.1" fill="#111"/>
<text x="115.14" y="486.90000000000003" font-size="8.1" text-anchor="start" fill="#1a1a1a" stroke="#1a1a1a" stroke-width="0.194" transform="rotate(90 115.14 486.90000000000003)">siScr</text>
<rect x="122.77" y="448.36" width="5.8" height="34.24" fill="url(#g2)" stroke="#3a5a9c" stroke-width="0.6"/>
<path d="M125.67 427.75V468.40M124.37 427.75h2.6M124.37 468.40h2.6" stroke="#333" stroke-width="0.45" fill="none"/>
<circle cx="125.67" cy="426.98" r="1.1" fill="#111"/>
<circle cx="125.67" cy="453.70" r="1.1" fill="#111"/>
<circle cx="125.67" cy="465.53" r="1.1" fill="#111"/>
<text x="123.97" y="486.90000000000003" font-size="8.1" text-anchor="start" fill="#1a1a1a" stroke="#1a1a1a" stroke-width="0.194" transform="rotate(90 123.97 486.90000000000003)">siLMNA/C</text>
<circle cx="133.10" cy="482.33" r="1.1" fill="#111"/>
<circle cx="134.50" cy="482.33" r="1.1" fill="#111"/>
<circle cx="135.90" cy="482.33" r="1.1" fill="#111"/>
<text x="134.5" y="480.40000000000003" font-size="4.6" text-anchor="middle" fill="#1a1a1a" stroke="#1a1a1a" stroke-width="0.11">N/A</text>
<text x="132.8" y="486.90000000000003" font-size="8.1" text-anchor="start" fill="#1a1a1a" stroke="#1a1a1a" stroke-width="0.194" transform="rotate(90 132.8 486.90000000000003)">siLMNB1</text>
<rect x="140.43" y="444.16" width="5.8" height="38.44" fill="url(#g2)" stroke="#3a5a9c" stroke-width="0.6"/>
<path d="M143.33 423.55V464.58M142.03 423.55h2.6M142.03 464.58h2.6" stroke="#333" stroke-width="0.45" fill="none"/>
<circle cx="143.33" cy="420.69" r="1.1" fill="#111"/>
<circle cx="142.13" cy="456.37" r="1.1" fill="#111"/>
<circle cx="144.53" cy="455.61" r="1.1" fill="#111"/>
<text x="141.63" y="486.90000000000003" font-size="8.1" text-anchor="start" fill="#1a1a1a" stroke="#1a1a1a" stroke-width="0.194" transform="rotate(90 141.63 486.90000000000003)">siLMNA/C+B1</text>
<linearGradient id="g3" x1="0" x2="1" y1="0" y2="0"><stop offset="0" stop-color="#2a8696"/><stop offset="0.5" stop-color="#5ba7b4"/><stop offset="1" stop-color="#2a8696"/></linearGradient>
<rect x="149.26" y="481.76" width="5.8" height="0.84" fill="url(#g3)" stroke="#1b5f6e" stroke-width="0.6"/>
<circle cx="152.16" cy="479.85" r="1.1" fill="#111"/>
<circle cx="150.76" cy="482.33" r="1.1" fill="#111"/>
<circle cx="153.56" cy="482.33" r="1.1" fill="#111"/>
<text x="150.46" y="486.90000000000003" font-size="8.1" text-anchor="start" fill="#1a1a1a" stroke="#1a1a1a" stroke-width="0.194" transform="rotate(90 150.46 486.90000000000003)">siScr</text>
<rect x="158.09" y="447.40" width="5.8" height="35.20" fill="url(#g3)" stroke="#1b5f6e" stroke-width="0.6"/>
<path d="M160.99 421.64V473.17M159.69 421.64h2.6M159.69 473.17h2.6" stroke="#333" stroke-width="0.45" fill="none"/>
<circle cx="160.99" cy="418.40" r="1.1" fill="#111"/>
<circle cx="159.79" cy="461.72" r="1.1" fill="#111"/>
<circle cx="162.19" cy="462.29" r="1.1" fill="#111"/>
<text x="159.29" y="486.90000000000003" font-size="8.1" text-anchor="start" fill="#1a1a1a" stroke="#1a1a1a" stroke-width="0.194" transform="rotate(90 159.29 486.90000000000003)">siLMNA/C</text>
<rect x="166.92" y="480.23" width="5.8" height="2.37" fill="url(#g3)" stroke="#1b5f6e" stroke-width="0.6"/>
<path d="M169.82 475.08V482.52M168.52 475.08h2.6M168.52 482.52h2.6" stroke="#333" stroke-width="0.45" fill="none"/>
<circle cx="169.82" cy="474.12" r="1.1" fill="#111"/>
<circle cx="168.52" cy="482.33" r="1.1" fill="#111"/>
<circle cx="171.12" cy="482.33" r="1.1" fill="#111"/>
<text x="168.12" y="486.90000000000003" font-size="8.1" text-anchor="start" fill="#1a1a1a" stroke="#1a1a1a" stroke-width="0.194" transform="rotate(90 168.12 486.90000000000003)">siLMNB1</text>
<rect x="175.75" y="436.34" width="5.8" height="46.26" fill="url(#g3)" stroke="#1b5f6e" stroke-width="0.6"/>
<path d="M178.65 408.66V463.63M177.35 408.66h2.6M177.35 463.63h2.6" stroke="#333" stroke-width="0.45" fill="none"/>
<circle cx="178.65" cy="415.92" r="1.1" fill="#111"/>
<circle cx="178.65" cy="424.89" r="1.1" fill="#111"/>
<circle cx="178.65" cy="467.44" r="1.1" fill="#111"/>
<text x="176.95" y="486.90000000000003" font-size="8.1" text-anchor="start" fill="#1a1a1a" stroke="#1a1a1a" stroke-width="0.194" transform="rotate(90 176.95 486.90000000000003)">siLMNA/C+B1</text>
<path d="M40.8 391.2V482.6H184.4" stroke="#222" stroke-width="0.7" fill="none"/>
<line x1="43.6" y1="538.4" x2="75.8" y2="538.4" stroke="#6e6e6e" stroke-width="0.6"/>
<text x="59.7" y="546" font-size="8.1" text-anchor="middle" fill="#1a1a1a" stroke="#1a1a1a" stroke-width="0.194">D0</text>
<line x1="79.5" y1="538.4" x2="111" y2="538.4" stroke="#6e6e6e" stroke-width="0.6"/>
<text x="95.25" y="546" font-size="8.1" text-anchor="middle" fill="#1a1a1a" stroke="#1a1a1a" stroke-width="0.194">D3</text>
<line x1="114.6" y1="538.4" x2="146" y2="538.4" stroke="#6e6e6e" stroke-width="0.6"/>
<text x="130.3" y="546" font-size="8.1" text-anchor="middle" fill="#1a1a1a" stroke="#1a1a1a" stroke-width="0.194">D6</text>
<line x1="150" y1="538.4" x2="181.3" y2="538.4" stroke="#6e6e6e" stroke-width="0.6"/>
<text x="165.65" y="546" font-size="8.1" text-anchor="middle" fill="#1a1a1a" stroke="#1a1a1a" stroke-width="0.194">D9</text>
<line x1="213.2" y1="392.7" x2="216.5" y2="392.7" stroke="#333" stroke-width="0.6"/>
<text x="211.7" y="395.59999999999997" font-size="8.1" text-anchor="end" fill="#1a1a1a" stroke="#1a1a1a" stroke-width="0.194">0.8</text>
<line x1="213.2" y1="415.3" x2="216.5" y2="415.3" stroke="#333" stroke-width="0.6"/>
<text x="211.7" y="418.2" font-size="8.1" text-anchor="end" fill="#1a1a1a" stroke="#1a1a1a" stroke-width="0.194">0.6</text>
<line x1="213.2" y1="437.6" x2="216.5" y2="437.6" stroke="#333" stroke-width="0.6"/>
<text x="211.7" y="440.5" font-size="8.1" text-anchor="end" fill="#1a1a1a" stroke="#1a1a1a" stroke-width="0.194">0.4</text>
<line x1="213.2" y1="460" x2="216.5" y2="460" stroke="#333" stroke-width="0.6"/>
<text x="211.7" y="462.9" font-size="8.1" text-anchor="end" fill="#1a1a1a" stroke="#1a1a1a" stroke-width="0.194">0.2</text>
<line x1="213.2" y1="482.6" x2="216.5" y2="482.6" stroke="#333" stroke-width="0.6"/>
<text x="211.7" y="485.5" font-size="8.1" text-anchor="end" fill="#1a1a1a" stroke="#1a1a1a" stroke-width="0.194">0</text>
<text x="218.8" y="399.9" font-size="8" text-anchor="start" fill="#1a1a1a" stroke="#1a1a1a" stroke-width="0.192" font-style="italic">TRNT1/SF3A1</text>
<text x="197.6" y="437" font-size="8" text-anchor="middle" fill="#1a1a1a" stroke="#1a1a1a" stroke-width="0.192" transform="rotate(-90 197.6 437)">Expression level</text>
<linearGradient id="g4" x1="0" x2="1" y1="0" y2="0"><stop offset="0" stop-color="#e9a98b"/><stop offset="0.5" stop-color="#f9c4ab"/><stop offset="1" stop-color="#e9a98b"/></linearGradient>
<rect x="219.60" y="434.05" width="5.8" height="48.65" fill="url(#g4)" stroke="#b5714f" stroke-width="0.6"/>
<path d="M222.50 409.81V457.90M221.20 409.81h2.6M221.20 457.90h2.6" stroke="#333" stroke-width="0.45" fill="none"/>
<circle cx="222.50" cy="409.81" r="1.1" fill="#111"/>
<circle cx="222.50" cy="435.38" r="1.1" fill="#111"/>
<circle cx="222.50" cy="456.95" r="1.1" fill="#111"/>
<text x="220.8" y="487.0" font-size="8.1" text-anchor="start" fill="#1a1a1a" stroke="#1a1a1a" stroke-width="0.194" transform="rotate(90 220.8 487.0)">siScr</text>
<rect x="228.35" y="450.27" width="5.8" height="32.43" fill="url(#g4)" stroke="#b5714f" stroke-width="0.6"/>
<path d="M231.25 435.95V464.58M229.95 435.95h2.6M229.95 464.58h2.6" stroke="#333" stroke-width="0.45" fill="none"/>
<circle cx="231.25" cy="440.73" r="1.1" fill="#111"/>
<circle cx="231.25" cy="442.63" r="1.1" fill="#111"/>
<circle cx="231.25" cy="467.06" r="1.1" fill="#111"/>
<text x="229.55" y="487.0" font-size="8.1" text-anchor="start" fill="#1a1a1a" stroke="#1a1a1a" stroke-width="0.194" transform="rotate(90 229.55 487.0)">siLMNA/C</text>
<rect x="237.10" y="437.29" width="5.8" height="45.41" fill="url(#g4)" stroke="#b5714f" stroke-width="0.6"/>
<path d="M240.00 420.69V454.08M238.70 420.69h2.6M238.70 454.08h2.6" stroke="#333" stroke-width="0.45" fill="none"/>
<circle cx="240.00" cy="424.50" r="1.1" fill="#111"/>
<circle cx="240.00" cy="431.18" r="1.1" fill="#111"/>
<circle cx="240.00" cy="455.61" r="1.1" fill="#111"/>
<text x="238.3" y="487.0" font-size="8.1" text-anchor="start" fill="#1a1a1a" stroke="#1a1a1a" stroke-width="0.194" transform="rotate(90 238.3 487.0)">siLMNB1</text>
<rect x="245.85" y="449.31" width="5.8" height="33.39" fill="url(#g4)" stroke="#b5714f" stroke-width="0.6"/>
<path d="M248.75 434.05V465.53M247.45 434.05h2.6M247.45 465.53h2.6" stroke="#333" stroke-width="0.45" fill="none"/>
<circle cx="248.75" cy="437.29" r="1.1" fill="#111"/>
<circle cx="248.75" cy="443.59" r="1.1" fill="#111"/>
<circle cx="248.75" cy="466.11" r="1.1" fill="#111"/>
<text x="247.05" y="487.0" font-size="8.1" text-anchor="start" fill="#1a1a1a" stroke="#1a1a1a" stroke-width="0.194" transform="rotate(90 247.05 487.0)">siLMNA/C+B1</text>
<linearGradient id="g5" x1="0" x2="1" y1="0" y2="0"><stop offset="0" stop-color="#e17540"/><stop offset="0.5" stop-color="#f3996d"/><stop offset="1" stop-color="#e17540"/></linearGradient>
<rect x="254.60" y="440.73" width="5.8" height="41.97" fill="url(#g5)" stroke="#a8501f" stroke-width="0.6"/>
<path d="M257.50 423.55V458.85M256.20 423.55h2.6M256.20 458.85h2.6" stroke="#333" stroke-width="0.45" fill="none"/>
<circle cx="257.50" cy="427.75" r="1.1" fill="#111"/>
<circle cx="257.50" cy="433.09" r="1.1" fill="#111"/>
<circle cx="257.50" cy="459.81" r="1.1" fill="#111"/>
<text x="255.8" y="487.0" font-size="8.1" text-anchor="start" fill="#1a1a1a" stroke="#1a1a1a" stroke-width="0.194" transform="rotate(90 255.8 487.0)">siScr</text>
<rect x="263.35" y="438.44" width="5.8" height="44.26" fill="url(#g5)" stroke="#a8501f" stroke-width="0.6"/>
<path d="M266.25 426.03V451.22M264.95 426.03h2.6M264.95 451.22h2.6" stroke="#333" stroke-width="0.45" fill="none"/>
<circle cx="266.25" cy="428.89" r="1.1" fill="#111"/>
<circle cx="266.25" cy="434.05" r="1.1" fill="#111"/>
<circle cx="266.25" cy="451.60" r="1.1" fill="#111"/>
<text x="264.55" y="487.0" font-size="8.1" text-anchor="start" fill="#1a1a1a" stroke="#1a1a1a" stroke-width="0.194" transform="rotate(90 264.55 487.0)">siLMNA/C</text>
<rect x="272.10" y="450.27" width="5.8" height="32.43" fill="url(#g5)" stroke="#a8501f" stroke-width="0.6"/>
<path d="M275.00 436.91V463.63M273.70 436.91h2.6M273.70 463.63h2.6" stroke="#333" stroke-width="0.45" fill="none"/>
<circle cx="275.00" cy="436.53" r="1.1" fill="#111"/>
<circle cx="275.00" cy="451.22" r="1.1" fill="#111"/>
<circle cx="275.00" cy="463.05" r="1.1" fill="#111"/>
<text x="273.3" y="487.0" font-size="8.1" text-anchor="start" fill="#1a1a1a" stroke="#1a1a1a" stroke-width="0.194" transform="rotate(90 273.3 487.0)">siLMNB1</text>
<rect x="280.85" y="448.36" width="5.8" height="34.34" fill="url(#g5)" stroke="#a8501f" stroke-width="0.6"/>
<path d="M283.75 432.71V463.63M282.45 432.71h2.6M282.45 463.63h2.6" stroke="#333" stroke-width="0.45" fill="none"/>
<circle cx="283.75" cy="433.09" r="1.1" fill="#111"/>
<circle cx="283.75" cy="448.36" r="1.1" fill="#111"/>
<circle cx="283.75" cy="463.05" r="1.1" fill="#111"/>
<text x="282.05" y="487.0" font-size="8.1" text-anchor="start" fill="#1a1a1a" stroke="#1a1a1a" stroke-width="0.194" transform="rotate(90 282.05 487.0)">siLMNA/C+B1</text>
<linearGradient id="g6" x1="0" x2="1" y1="0" y2="0"><stop offset="0" stop-color="#da5924"/><stop offset="0.5" stop-color="#ed8256"/><stop offset="1" stop-color="#da5924"/></linearGradient>
<rect x="289.60" y="438.82" width="5.8" height="43.88" fill="url(#g6)" stroke="#9c3d12" stroke-width="0.6"/>
<path d="M292.50 413.63V463.63M291.20 413.63h2.6M291.20 463.63h2.6" stroke="#333" stroke-width="0.45" fill="none"/>
<circle cx="292.50" cy="415.92" r="1.1" fill="#111"/>
<circle cx="292.50" cy="434.05" r="1.1" fill="#111"/>
<circle cx="292.50" cy="466.11" r="1.1" fill="#111"/>
<text x="290.8" y="487.0" font-size="8.1" text-anchor="start" fill="#1a1a1a" stroke="#1a1a1a" stroke-width="0.194" transform="rotate(90 290.8 487.0)">siScr</text>
<rect x="298.35" y="439.77" width="5.8" height="42.93" fill="url(#g6)" stroke="#9c3d12" stroke-width="0.6"/>
<path d="M301.25 424.50V455.04M299.95 424.50h2.6M299.95 455.04h2.6" stroke="#333" stroke-width="0.45" fill="none"/>
<circle cx="301.25" cy="428.32" r="1.1" fill="#111"/>
<circle cx="301.25" cy="432.71" r="1.1" fill="#111"/>
<circle cx="301.25" cy="456.95" r="1.1" fill="#111"/>
<text x="299.55" y="487.0" font-size="8.1" text-anchor="start" fill="#1a1a1a" stroke="#1a1a1a" stroke-width="0.194" transform="rotate(90 299.55 487.0)">siLMNA/C</text>
<rect x="307.10" y="438.24" width="5.8" height="44.46" fill="url(#g6)" stroke="#9c3d12" stroke-width="0.6"/>
<path d="M310.00 424.50V450.27M308.70 424.50h2.6M308.70 450.27h2.6" stroke="#333" stroke-width="0.45" fill="none"/>
<circle cx="310.00" cy="425.46" r="1.1" fill="#111"/>
<circle cx="310.00" cy="435.38" r="1.1" fill="#111"/>
<circle cx="310.00" cy="452.56" r="1.1" fill="#111"/>
<text x="308.3" y="487.0" font-size="8.1" text-anchor="start" fill="#1a1a1a" stroke="#1a1a1a" stroke-width="0.194" transform="rotate(90 308.3 487.0)">siLMNB1</text>
<rect x="315.85" y="432.14" width="5.8" height="50.56" fill="url(#g6)" stroke="#9c3d12" stroke-width="0.6"/>
<path d="M318.75 405.99V458.85M317.45 405.99h2.6M317.45 458.85h2.6" stroke="#333" stroke-width="0.45" fill="none"/>
<circle cx="318.75" cy="411.15" r="1.1" fill="#111"/>
<circle cx="318.75" cy="424.12" r="1.1" fill="#111"/>
<circle cx="318.75" cy="461.72" r="1.1" fill="#111"/>
<text x="317.05" y="487.0" font-size="8.1" text-anchor="start" fill="#1a1a1a" stroke="#1a1a1a" stroke-width="0.194" transform="rotate(90 317.05 487.0)">siLMNA/C+B1</text>
<linearGradient id="g7" x1="0" x2="1" y1="0" y2="0"><stop offset="0" stop-color="#bb4027"/><stop offset="0.5" stop-color="#d36d58"/><stop offset="1" stop-color="#bb4027"/></linearGradient>
<rect x="324.60" y="443.21" width="5.8" height="39.49" fill="url(#g7)" stroke="#7d2614" stroke-width="0.6"/>
<path d="M327.50 423.55V463.63M326.20 423.55h2.6M326.20 463.63h2.6" stroke="#333" stroke-width="0.45" fill="none"/>
<circle cx="327.50" cy="424.12" r="1.1" fill="#111"/>
<circle cx="327.50" cy="440.73" r="1.1" fill="#111"/>
<circle cx="327.50" cy="463.63" r="1.1" fill="#111"/>
<text x="325.8" y="487.0" font-size="8.1" text-anchor="start" fill="#1a1a1a" stroke="#1a1a1a" stroke-width="0.194" transform="rotate(90 325.8 487.0)">siScr</text>
<rect x="333.35" y="432.14" width="5.8" height="50.56" fill="url(#g7)" stroke="#7d2614" stroke-width="0.6"/>
<path d="M336.25 402.18V462.67M334.95 402.18h2.6M334.95 462.67h2.6" stroke="#333" stroke-width="0.45" fill="none"/>
<circle cx="336.25" cy="411.15" r="1.1" fill="#111"/>
<circle cx="336.25" cy="418.40" r="1.1" fill="#111"/>
<circle cx="336.25" cy="466.49" r="1.1" fill="#111"/>
<text x="334.55" y="487.0" font-size="8.1" text-anchor="start" fill="#1a1a1a" stroke="#1a1a1a" stroke-width="0.194" transform="rotate(90 334.55 487.0)">siLMNA/C</text>
<rect x="342.10" y="441.68" width="5.8" height="41.02" fill="url(#g7)" stroke="#7d2614" stroke-width="0.6"/>
<path d="M345.00 423.55V458.85M343.70 423.55h2.6M343.70 458.85h2.6" stroke="#333" stroke-width="0.45" fill="none"/>
<circle cx="345.00" cy="423.93" r="1.1" fill="#111"/>
<circle cx="345.00" cy="441.68" r="1.1" fill="#111"/>
<circle cx="345.00" cy="458.47" r="1.1" fill="#111"/>
<text x="343.3" y="487.0" font-size="8.1" text-anchor="start" fill="#1a1a1a" stroke="#1a1a1a" stroke-width="0.194" transform="rotate(90 343.3 487.0)">siLMNB1</text>
<rect x="350.85" y="432.71" width="5.8" height="49.99" fill="url(#g7)" stroke="#7d2614" stroke-width="0.6"/>
<path d="M353.75 421.07V442.63M352.45 421.07h2.6M352.45 442.63h2.6" stroke="#333" stroke-width="0.45" fill="none"/>
<circle cx="353.75" cy="423.55" r="1.1" fill="#111"/>
<circle cx="353.75" cy="428.89" r="1.1" fill="#111"/>
<circle cx="353.75" cy="444.92" r="1.1" fill="#111"/>
<text x="352.05" y="487.0" font-size="8.1" text-anchor="start" fill="#1a1a1a" stroke="#1a1a1a" stroke-width="0.194" transform="rotate(90 352.05 487.0)">siLMNA/C+B1</text>
<path d="M216.5 392.7V482.7H359.3" stroke="#222" stroke-width="0.7" fill="none"/>
<line x1="220" y1="538.4" x2="251.5" y2="538.4" stroke="#6e6e6e" stroke-width="0.6"/>
<text x="235.75" y="546" font-size="8.1" text-anchor="middle" fill="#1a1a1a" stroke="#1a1a1a" stroke-width="0.194">D0</text>
<line x1="255" y1="538.4" x2="287.2" y2="538.4" stroke="#6e6e6e" stroke-width="0.6"/>
<text x="271.1" y="546" font-size="8.1" text-anchor="middle" fill="#1a1a1a" stroke="#1a1a1a" stroke-width="0.194">D3</text>
<line x1="290.2" y1="538.4" x2="322.3" y2="538.4" stroke="#6e6e6e" stroke-width="0.6"/>
<text x="306.25" y="546" font-size="8.1" text-anchor="middle" fill="#1a1a1a" stroke="#1a1a1a" stroke-width="0.194">D6</text>
<line x1="326.3" y1="538.4" x2="357.5" y2="538.4" stroke="#6e6e6e" stroke-width="0.6"/>
<text x="341.9" y="546" font-size="8.1" text-anchor="middle" fill="#1a1a1a" stroke="#1a1a1a" stroke-width="0.194">D9</text>
<line x1="389.0" y1="391.2" x2="392.3" y2="391.2" stroke="#333" stroke-width="0.6"/>
<text x="386.8" y="394.09999999999997" font-size="8.1" text-anchor="end" fill="#1a1a1a" stroke="#1a1a1a" stroke-width="0.194">1</text>
<line x1="389.0" y1="409.5" x2="392.3" y2="409.5" stroke="#333" stroke-width="0.6"/>
<text x="386.8" y="412.4" font-size="8.1" text-anchor="end" fill="#1a1a1a" stroke="#1a1a1a" stroke-width="0.194">0.8</text>
<line x1="389.0" y1="427.8" x2="392.3" y2="427.8" stroke="#333" stroke-width="0.6"/>
<text x="386.8" y="430.7" font-size="8.1" text-anchor="end" fill="#1a1a1a" stroke="#1a1a1a" stroke-width="0.194">0.6</text>
<line x1="389.0" y1="446.0" x2="392.3" y2="446.0" stroke="#333" stroke-width="0.6"/>
<text x="386.8" y="448.9" font-size="8.1" text-anchor="end" fill="#1a1a1a" stroke="#1a1a1a" stroke-width="0.194">0.4</text>
<line x1="389.0" y1="464.3" x2="392.3" y2="464.3" stroke="#333" stroke-width="0.6"/>
<text x="386.8" y="467.2" font-size="8.1" text-anchor="end" fill="#1a1a1a" stroke="#1a1a1a" stroke-width="0.194">0.2</text>
<line x1="389.0" y1="482.7" x2="392.3" y2="482.7" stroke="#333" stroke-width="0.6"/>
<text x="386.8" y="485.59999999999997" font-size="8.1" text-anchor="end" fill="#1a1a1a" stroke="#1a1a1a" stroke-width="0.194">0</text>
<text x="395.0" y="399.5" font-size="8" text-anchor="start" fill="#1a1a1a" stroke="#1a1a1a" stroke-width="0.192" font-style="italic">CRBN/SF3A1</text>
<text x="373.3" y="436" font-size="8" text-anchor="middle" fill="#1a1a1a" stroke="#1a1a1a" stroke-width="0.192" transform="rotate(-90 373.3 436)">Expression level</text>
<rect x="395.50" y="450.27" width="5.8" height="32.53" fill="url(#g4)" stroke="#b5714f" stroke-width="0.6"/>
<path d="M398.40 433.47V466.49M397.10 433.47h2.6M397.10 466.49h2.6" stroke="#333" stroke-width="0.45" fill="none"/>
<circle cx="398.40" cy="431.56" r="1.1" fill="#111"/>
<circle cx="398.40" cy="458.47" r="1.1" fill="#111"/>
<circle cx="398.40" cy="460.38" r="1.1" fill="#111"/>
<text x="396.7" y="487.1" font-size="8.1" text-anchor="start" fill="#1a1a1a" stroke="#1a1a1a" stroke-width="0.194" transform="rotate(90 396.7 487.1)">siScr</text>
<rect x="404.29" y="448.74" width="5.8" height="34.06" fill="url(#g4)" stroke="#b5714f" stroke-width="0.6"/>
<path d="M407.19 426.41V468.40M405.89 426.41h2.6M405.89 468.40h2.6" stroke="#333" stroke-width="0.45" fill="none"/>
<circle cx="407.19" cy="426.41" r="1.1" fill="#111"/>
<circle cx="407.19" cy="453.13" r="1.1" fill="#111"/>
<circle cx="407.19" cy="466.49" r="1.1" fill="#111"/>
<text x="405.49" y="487.1" font-size="8.1" text-anchor="start" fill="#1a1a1a" stroke="#1a1a1a" stroke-width="0.194" transform="rotate(90 405.49 487.1)">siLMNA/C</text>
<rect x="413.08" y="441.68" width="5.8" height="41.12" fill="url(#g4)" stroke="#b5714f" stroke-width="0.6"/>
<path d="M415.98 429.66V455.04M414.68 429.66h2.6M414.68 455.04h2.6" stroke="#333" stroke-width="0.45" fill="none"/>
<circle cx="415.98" cy="431.76" r="1.1" fill="#111"/>
<circle cx="415.98" cy="437.29" r="1.1" fill="#111"/>
<circle cx="415.98" cy="454.47" r="1.1" fill="#111"/>
<text x="414.28" y="487.1" font-size="8.1" text-anchor="start" fill="#1a1a1a" stroke="#1a1a1a" stroke-width="0.194" transform="rotate(90 414.28 487.1)">siLMNB1</text>
<rect x="421.87" y="439.77" width="5.8" height="43.03" fill="url(#g4)" stroke="#b5714f" stroke-width="0.6"/>
<path d="M424.77 417.44V461.72M423.47 417.44h2.6M423.47 461.72h2.6" stroke="#333" stroke-width="0.45" fill="none"/>
<circle cx="424.77" cy="425.08" r="1.1" fill="#111"/>
<circle cx="424.77" cy="428.89" r="1.1" fill="#111"/>
<circle cx="424.77" cy="465.15" r="1.1" fill="#111"/>
<text x="423.07" y="487.1" font-size="8.1" text-anchor="start" fill="#1a1a1a" stroke="#1a1a1a" stroke-width="0.194" transform="rotate(90 423.07 487.1)">siLMNA/C+B1</text>
<rect x="430.66" y="438.44" width="5.8" height="44.36" fill="url(#g5)" stroke="#a8501f" stroke-width="0.6"/>
<path d="M433.56 424.89V453.13M432.26 424.89h2.6M432.26 453.13h2.6" stroke="#333" stroke-width="0.45" fill="none"/>
<circle cx="432.16" cy="430.80" r="1.1" fill="#111"/>
<circle cx="434.96" cy="430.80" r="1.1" fill="#111"/>
<circle cx="433.56" cy="453.13" r="1.1" fill="#111"/>
<text x="431.86" y="487.1" font-size="8.1" text-anchor="start" fill="#1a1a1a" stroke="#1a1a1a" stroke-width="0.194" transform="rotate(90 431.86 487.1)">siScr</text>
<rect x="439.45" y="439.20" width="5.8" height="43.60" fill="url(#g5)" stroke="#a8501f" stroke-width="0.6"/>
<path d="M442.35 432.52V445.50M441.05 432.52h2.6M441.05 445.50h2.6" stroke="#333" stroke-width="0.45" fill="none"/>
<circle cx="440.95" cy="435.57" r="1.1" fill="#111"/>
<circle cx="443.75" cy="435.57" r="1.1" fill="#111"/>
<circle cx="442.35" cy="445.88" r="1.1" fill="#111"/>
<text x="440.65" y="487.1" font-size="8.1" text-anchor="start" fill="#1a1a1a" stroke="#1a1a1a" stroke-width="0.194" transform="rotate(90 440.65 487.1)">siLMNA/C</text>
<rect x="448.24" y="441.30" width="5.8" height="41.50" fill="url(#g5)" stroke="#a8501f" stroke-width="0.6"/>
<path d="M451.14 426.98V455.99M449.84 426.98h2.6M449.84 455.99h2.6" stroke="#333" stroke-width="0.45" fill="none"/>
<circle cx="451.14" cy="427.75" r="1.1" fill="#111"/>
<circle cx="451.14" cy="440.34" r="1.1" fill="#111"/>
<circle cx="451.14" cy="455.99" r="1.1" fill="#111"/>
<text x="449.44" y="487.1" font-size="8.1" text-anchor="start" fill="#1a1a1a" stroke="#1a1a1a" stroke-width="0.194" transform="rotate(90 449.44 487.1)">siLMNB1</text>
<rect x="457.03" y="451.60" width="5.8" height="31.20" fill="url(#g5)" stroke="#a8501f" stroke-width="0.6"/>
<path d="M459.93 437.29V466.49M458.63 437.29h2.6M458.63 466.49h2.6" stroke="#333" stroke-width="0.45" fill="none"/>
<circle cx="459.93" cy="440.34" r="1.1" fill="#111"/>
<circle cx="459.93" cy="447.98" r="1.1" fill="#111"/>
<circle cx="459.93" cy="465.92" r="1.1" fill="#111"/>
<text x="458.23" y="487.1" font-size="8.1" text-anchor="start" fill="#1a1a1a" stroke="#1a1a1a" stroke-width="0.194" transform="rotate(90 458.23 487.1)">siLMNA/C+B1</text>
<rect x="465.82" y="440.34" width="5.8" height="42.46" fill="url(#g6)" stroke="#9c3d12" stroke-width="0.6"/>
<path d="M468.72 416.87V461.72M467.42 416.87h2.6M467.42 461.72h2.6" stroke="#333" stroke-width="0.45" fill="none"/>
<circle cx="468.72" cy="416.49" r="1.1" fill="#111"/>
<circle cx="468.72" cy="442.63" r="1.1" fill="#111"/>
<circle cx="468.72" cy="461.72" r="1.1" fill="#111"/>
<text x="467.02" y="487.1" font-size="8.1" text-anchor="start" fill="#1a1a1a" stroke="#1a1a1a" stroke-width="0.194" transform="rotate(90 467.02 487.1)">siScr</text>
<rect x="474.61" y="438.82" width="5.8" height="43.98" fill="url(#g6)" stroke="#9c3d12" stroke-width="0.6"/>
<path d="M477.51 419.35V455.99M476.21 419.35h2.6M476.21 455.99h2.6" stroke="#333" stroke-width="0.45" fill="none"/>
<circle cx="477.51" cy="419.73" r="1.1" fill="#111"/>
<circle cx="477.51" cy="442.06" r="1.1" fill="#111"/>
<circle cx="477.51" cy="455.61" r="1.1" fill="#111"/>
<text x="475.81" y="487.1" font-size="8.1" text-anchor="start" fill="#1a1a1a" stroke="#1a1a1a" stroke-width="0.194" transform="rotate(90 475.81 487.1)">siLMNA/C</text>
<rect x="483.40" y="440.73" width="5.8" height="42.07" fill="url(#g6)" stroke="#9c3d12" stroke-width="0.6"/>
<path d="M486.30 426.41V455.99M485.00 426.41h2.6M485.00 455.99h2.6" stroke="#333" stroke-width="0.45" fill="none"/>
<circle cx="486.30" cy="430.23" r="1.1" fill="#111"/>
<circle cx="486.30" cy="435.38" r="1.1" fill="#111"/>
<circle cx="486.30" cy="455.99" r="1.1" fill="#111"/>
<text x="484.6" y="487.1" font-size="8.1" text-anchor="start" fill="#1a1a1a" stroke="#1a1a1a" stroke-width="0.194" transform="rotate(90 484.6 487.1)">siLMNB1</text>
<rect x="492.19" y="451.22" width="5.8" height="31.58" fill="url(#g6)" stroke="#9c3d12" stroke-width="0.6"/>
<path d="M495.09 441.11V462.67M493.79 441.11h2.6M493.79 462.67h2.6" stroke="#333" stroke-width="0.45" fill="none"/>
<circle cx="495.09" cy="444.16" r="1.1" fill="#111"/>
<circle cx="495.09" cy="447.02" r="1.1" fill="#111"/>
<circle cx="495.09" cy="462.29" r="1.1" fill="#111"/>
<text x="493.39" y="487.1" font-size="8.1" text-anchor="start" fill="#1a1a1a" stroke="#1a1a1a" stroke-width="0.194" transform="rotate(90 493.39 487.1)">siLMNA/C+B1</text>
<rect x="500.98" y="452.75" width="5.8" height="30.05" fill="url(#g7)" stroke="#7d2614" stroke-width="0.6"/>
<path d="M503.88 439.77V465.53M502.58 439.77h2.6M502.58 465.53h2.6" stroke="#333" stroke-width="0.45" fill="none"/>
<circle cx="503.88" cy="439.77" r="1.1" fill="#111"/>
<circle cx="503.88" cy="453.13" r="1.1" fill="#111"/>
<circle cx="503.88" cy="465.53" r="1.1" fill="#111"/>
<text x="502.18" y="487.1" font-size="8.1" text-anchor="start" fill="#1a1a1a" stroke="#1a1a1a" stroke-width="0.194" transform="rotate(90 502.18 487.1)">siScr</text>
<rect x="509.77" y="442.25" width="5.8" height="40.55" fill="url(#g7)" stroke="#7d2614" stroke-width="0.6"/>
<path d="M512.67 415.92V466.49M511.37 415.92h2.6M511.37 466.49h2.6" stroke="#333" stroke-width="0.45" fill="none"/>
<circle cx="512.67" cy="415.92" r="1.1" fill="#111"/>
<circle cx="512.67" cy="446.07" r="1.1" fill="#111"/>
<circle cx="512.67" cy="466.49" r="1.1" fill="#111"/>
<text x="510.97" y="487.1" font-size="8.1" text-anchor="start" fill="#1a1a1a" stroke="#1a1a1a" stroke-width="0.194" transform="rotate(90 510.97 487.1)">siLMNA/C</text>
<rect x="518.56" y="447.79" width="5.8" height="35.01" fill="url(#g7)" stroke="#7d2614" stroke-width="0.6"/>
<path d="M521.46 433.09V460.76M520.16 433.09h2.6M520.16 460.76h2.6" stroke="#333" stroke-width="0.45" fill="none"/>
<circle cx="521.46" cy="433.47" r="1.1" fill="#111"/>
<circle cx="521.46" cy="452.18" r="1.1" fill="#111"/>
<circle cx="521.46" cy="458.85" r="1.1" fill="#111"/>
<text x="519.76" y="487.1" font-size="8.1" text-anchor="start" fill="#1a1a1a" stroke="#1a1a1a" stroke-width="0.194" transform="rotate(90 519.76 487.1)">siLMNB1</text>
<rect x="527.35" y="447.79" width="5.8" height="35.01" fill="url(#g7)" stroke="#7d2614" stroke-width="0.6"/>
<path d="M530.25 441.11V455.99M528.95 441.11h2.6M528.95 455.99h2.6" stroke="#333" stroke-width="0.45" fill="none"/>
<circle cx="530.25" cy="442.25" r="1.1" fill="#111"/>
<circle cx="530.25" cy="447.40" r="1.1" fill="#111"/>
<circle cx="530.25" cy="455.61" r="1.1" fill="#111"/>
<text x="528.55" y="487.1" font-size="8.1" text-anchor="start" fill="#1a1a1a" stroke="#1a1a1a" stroke-width="0.194" transform="rotate(90 528.55 487.1)">siLMNA/C+B1</text>
<path d="M392.3 391.2V482.8H536" stroke="#222" stroke-width="0.7" fill="none"/>
<line x1="397.5" y1="538.4" x2="429" y2="538.4" stroke="#6e6e6e" stroke-width="0.6"/>
<text x="413.25" y="546" font-size="8.1" text-anchor="middle" fill="#1a1a1a" stroke="#1a1a1a" stroke-width="0.194">D0</text>
<line x1="432" y1="538.4" x2="463.8" y2="538.4" stroke="#6e6e6e" stroke-width="0.6"/>
<text x="447.9" y="546" font-size="8.1" text-anchor="middle" fill="#1a1a1a" stroke="#1a1a1a" stroke-width="0.194">D3</text>
<line x1="467" y1="538.4" x2="499" y2="538.4" stroke="#6e6e6e" stroke-width="0.6"/>
<text x="483.0" y="546" font-size="8.1" text-anchor="middle" fill="#1a1a1a" stroke="#1a1a1a" stroke-width="0.194">D6</text>
<line x1="502.6" y1="538.4" x2="535.2" y2="538.4" stroke="#6e6e6e" stroke-width="0.6"/>
<text x="518.9000000000001" y="546" font-size="8.1" text-anchor="middle" fill="#1a1a1a" stroke="#1a1a1a" stroke-width="0.194">D9</text>
</svg>
</body></html>
